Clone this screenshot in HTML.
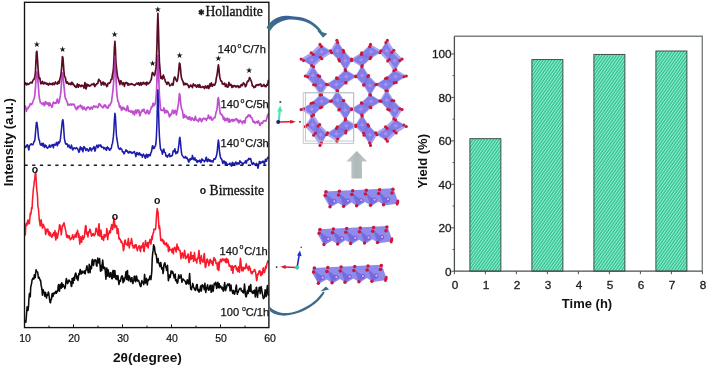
<!DOCTYPE html>
<html><head><meta charset="utf-8"><title>XRD hollandite birnessite</title>
<style>html,body{margin:0;padding:0;background:#fff}body{width:709px;height:369px;overflow:hidden}</style>
</head><body>
<svg width="709" height="369" viewBox="0 0 709 369" style="display:block">
<defs>
<pattern id="hatch" width="2.4" height="2.4" patternUnits="userSpaceOnUse" patternTransform="rotate(-55)">
<rect width="2.4" height="2.4" fill="#2fbd8e"/><rect width="2.4" height="1.1" fill="#93f2d2"/></pattern>
<linearGradient id="garrow" x1="0" x2="1" y1="0" y2="0"><stop offset="0" stop-color="#c3cacb"/><stop offset="0.5" stop-color="#aeb8b9"/><stop offset="1" stop-color="#c3cacb"/></linearGradient>
<linearGradient id="barrow" x1="0" x2="0" y1="0" y2="1"><stop offset="0" stop-color="#3a5f96"/><stop offset="1" stop-color="#3d7f80"/></linearGradient>
<clipPath id="clipL"><rect x="24.4" y="2.3" width="244.8" height="325.3"/></clipPath>
</defs>
<rect width="709" height="369" fill="#fff"/>
<g clip-path="url(#clipL)">
<polyline points="24.9,319.6 25.3,321.0 25.8,322.3 26.2,318.4 26.7,311.8 27.1,306.7 27.6,307.6 28.0,310.5 28.5,307.0 28.9,299.0 29.4,293.6 29.8,296.7 30.3,296.8 30.7,287.3 31.2,285.1 31.6,283.3 32.1,279.8 32.5,279.3 33.0,278.1 33.4,279.1 33.9,279.0 34.3,274.7 34.8,275.4 35.2,277.7 35.7,272.7 36.1,269.7 36.6,271.1 37.0,271.8 37.5,272.0 37.9,273.7 38.4,278.1 38.8,277.5 39.3,277.4 39.7,279.0 40.2,280.5 40.6,280.4 41.1,285.1 41.5,286.9 42.0,290.3 42.4,295.2 42.9,289.6 43.3,289.9 43.8,292.5 44.2,292.9 44.7,296.2 45.1,292.3 45.6,292.7 46.0,296.1 46.5,298.0 46.9,295.6 47.4,294.4 47.8,295.1 48.3,292.0 48.7,292.7 49.2,296.5 49.6,299.7 50.1,302.5 50.5,302.8 51.0,299.5 51.4,299.4 51.9,294.8 52.3,293.4 52.8,296.7 53.2,295.7 53.7,292.9 54.1,292.9 54.6,293.8 55.0,292.9 55.5,291.4 55.9,293.0 56.4,293.2 56.8,291.1 57.3,291.9 57.7,291.3 58.2,286.0 58.6,284.6 59.1,289.2 59.5,291.1 60.0,286.5 60.4,284.2 60.9,287.7 61.3,288.1 61.8,282.8 62.2,286.1 62.7,287.1 63.1,284.4 63.6,286.2 64.0,286.3 64.5,286.3 64.9,288.6 65.4,286.8 65.8,281.8 66.3,278.5 66.7,279.8 67.2,283.0 67.6,283.6 68.1,282.7 68.5,280.6 69.0,280.1 69.4,280.6 69.9,281.5 70.3,282.0 70.8,282.1 71.2,286.3 71.7,286.4 72.1,278.5 72.6,280.1 73.0,283.4 73.5,277.6 73.9,278.9 74.4,280.3 74.8,275.9 75.3,273.9 75.7,273.0 76.2,274.2 76.6,278.7 77.1,278.0 77.5,276.3 78.0,280.4 78.4,276.7 78.9,273.5 79.3,274.6 79.8,271.4 80.2,269.5 80.7,271.7 81.1,274.1 81.6,271.8 82.0,271.0 82.5,273.1 82.9,272.3 83.4,272.0 83.8,272.5 84.3,270.9 84.7,273.5 85.2,273.8 85.6,270.4 86.1,270.1 86.5,267.7 87.0,265.8 87.4,269.6 87.9,270.6 88.3,272.8 88.8,270.6 89.2,264.2 89.7,267.8 90.1,272.8 90.6,266.3 91.0,266.9 91.5,268.6 91.9,261.5 92.4,259.4 92.8,262.1 93.3,265.5 93.7,264.4 94.2,260.1 94.6,260.8 95.1,260.4 95.5,259.8 96.0,261.3 96.4,265.3 96.9,266.2 97.3,261.8 97.8,258.0 98.2,261.2 98.7,262.9 99.1,261.0 99.6,258.6 100.0,264.8 100.5,271.2 100.9,265.5 101.4,265.7 101.8,270.5 102.3,263.4 102.7,260.1 103.2,265.2 103.6,268.2 104.1,268.8 104.5,267.2 105.0,267.7 105.4,273.0 105.9,279.2 106.3,274.7 106.8,268.1 107.2,275.3 107.7,276.1 108.1,269.7 108.6,272.6 109.0,275.3 109.5,277.1 109.9,276.6 110.4,272.6 110.8,272.8 111.3,275.5 111.7,278.5 112.2,278.8 112.6,272.3 113.1,270.4 113.5,276.6 114.0,277.5 114.4,270.6 114.9,270.8 115.3,275.5 115.8,278.9 116.2,276.4 116.7,275.6 117.1,279.7 117.6,277.2 118.0,275.8 118.5,280.5 118.9,284.5 119.4,282.4 119.8,280.6 120.3,281.4 120.7,280.1 121.2,277.5 121.6,276.2 122.1,275.7 122.5,276.8 123.0,282.7 123.4,282.0 123.9,278.3 124.3,281.0 124.8,277.8 125.2,277.5 125.7,273.3 126.1,271.5 126.6,279.5 127.0,274.5 127.5,270.6 127.9,278.6 128.4,280.6 128.8,275.9 129.3,276.0 129.7,277.3 130.2,279.8 130.6,281.7 131.1,280.0 131.5,277.7 132.0,277.8 132.4,282.0 132.9,283.5 133.3,281.7 133.8,280.5 134.2,276.4 134.7,276.1 135.1,279.6 135.6,281.8 136.0,278.9 136.5,276.0 136.9,277.9 137.4,281.0 137.8,280.4 138.3,280.2 138.7,280.5 139.2,282.3 139.6,283.9 140.1,285.2 140.5,286.5 141.0,286.4 141.4,282.7 141.9,280.6 142.3,282.7 142.8,282.4 143.2,282.3 143.7,284.6 144.1,281.3 144.6,274.4 145.0,279.3 145.5,283.1 145.9,281.7 146.4,278.4 146.8,280.5 147.3,285.0 147.7,281.5 148.2,279.6 148.6,280.1 149.1,279.7 149.5,277.8 150.0,276.0 150.4,278.1 150.9,279.6 151.3,276.4 151.8,271.5 152.2,259.2 152.7,253.0 153.1,250.9 153.6,244.7 154.0,246.3 154.5,247.0 154.9,250.7 155.4,254.1 155.8,253.7 156.3,255.2 156.7,258.9 157.2,262.8 157.6,261.8 158.1,258.6 158.5,262.4 159.0,263.8 159.4,264.3 159.9,266.7 160.3,262.7 160.8,262.5 161.2,265.4 161.7,269.1 162.1,267.4 162.6,268.2 163.0,273.5 163.5,270.9 163.9,265.0 164.4,263.6 164.8,262.8 165.3,265.0 165.7,267.2 166.2,266.9 166.6,270.4 167.1,268.5 167.5,265.2 168.0,275.0 168.4,280.8 168.9,277.6 169.3,275.1 169.8,277.5 170.2,277.5 170.7,274.1 171.1,270.9 171.6,271.2 172.0,273.0 172.5,271.5 172.9,272.1 173.4,274.4 173.8,276.1 174.3,278.0 174.7,276.6 175.2,274.0 175.6,280.5 176.1,281.0 176.5,279.8 177.0,282.7 177.4,283.2 177.9,282.0 178.3,277.3 178.8,274.8 179.2,278.3 179.7,276.7 180.1,276.8 180.6,277.7 181.0,274.8 181.5,278.5 181.9,282.2 182.4,280.2 182.8,279.0 183.3,279.2 183.7,280.0 184.2,280.2 184.6,280.7 185.1,281.2 185.5,282.0 186.0,284.0 186.4,284.1 186.9,281.2 187.3,279.7 187.8,282.6 188.2,283.4 188.7,283.9 189.1,279.3 189.6,273.6 190.0,279.4 190.5,286.8 190.9,289.3 191.4,289.8 191.8,287.1 192.3,286.8 192.7,283.4 193.2,285.3 193.6,287.6 194.1,287.9 194.5,289.5 195.0,288.6 195.4,290.5 195.9,288.9 196.3,285.8 196.8,284.5 197.2,284.6 197.7,290.3 198.1,290.9 198.6,289.5 199.0,292.2 199.5,290.9 199.9,290.7 200.4,287.1 200.8,285.9 201.3,291.1 201.7,288.7 202.2,284.8 202.6,285.0 203.1,286.5 203.5,286.1 204.0,288.4 204.4,289.7 204.9,283.3 205.3,287.7 205.8,292.5 206.2,289.5 206.7,288.6 207.1,286.4 207.6,284.8 208.0,288.0 208.5,290.0 208.9,290.2 209.4,289.0 209.8,286.0 210.3,285.2 210.7,288.6 211.2,292.3 211.6,288.9 212.1,285.0 212.5,288.4 213.0,291.4 213.4,289.7 213.9,285.7 214.3,283.4 214.8,284.6 215.2,284.6 215.7,282.2 216.1,284.1 216.6,288.5 217.0,286.3 217.5,283.2 217.9,282.3 218.4,287.6 218.8,285.0 219.3,283.7 219.7,287.9 220.2,285.9 220.6,285.9 221.1,286.9 221.5,287.4 222.0,289.0 222.4,287.2 222.9,289.8 223.3,291.1 223.8,290.1 224.2,285.8 224.7,282.5 225.1,286.7 225.6,290.6 226.0,288.9 226.5,287.8 226.9,285.5 227.4,284.6 227.8,284.1 228.3,284.9 228.7,285.8 229.2,283.8 229.6,285.5 230.1,290.9 230.5,289.9 231.0,285.0 231.4,289.5 231.9,290.3 232.3,291.6 232.8,293.4 233.2,290.4 233.7,290.4 234.1,293.7 234.6,294.2 235.0,292.1 235.5,291.5 235.9,287.4 236.4,285.0 236.8,290.9 237.3,294.2 237.7,292.5 238.2,292.3 238.6,290.3 239.1,289.8 239.5,288.8 240.0,288.4 240.4,288.8 240.9,288.3 241.3,290.9 241.8,290.4 242.2,290.7 242.7,292.3 243.1,291.3 243.6,293.0 244.0,289.7 244.5,284.1 244.9,288.2 245.4,294.1 245.8,296.6 246.3,296.9 246.7,294.3 247.2,291.0 247.6,290.6 248.1,293.5 248.5,289.3 249.0,286.2 249.4,288.0 249.9,291.5 250.3,285.6 250.8,284.6 251.2,291.7 251.7,291.6 252.1,292.3 252.6,293.4 253.0,291.0 253.5,291.0 253.9,293.2 254.4,290.1 254.8,291.6 255.3,296.9 255.7,293.7 256.2,287.5 256.6,287.2 257.1,294.3 257.5,297.3 258.0,292.4 258.4,291.1 258.9,289.5 259.3,287.2 259.8,289.6 260.2,293.6 260.7,289.0 261.1,286.5 261.6,289.0 262.0,291.4 262.5,294.4 262.9,296.5 263.4,298.6 263.8,297.9 264.3,297.8 264.7,293.5 265.2,289.7 265.6,294.9 266.1,296.6 266.5,293.7 267.0,288.9 267.4,285.5 267.9,291.3 268.3,295.8" fill="none" stroke="#0a0a0a" stroke-width="1.55" stroke-linejoin="round" />
<polyline points="24.9,235.4 25.3,234.8 25.8,225.5 26.2,223.4 26.7,225.4 27.1,224.6 27.6,220.6 28.0,220.0 28.5,222.4 28.9,223.9 29.4,223.1 29.8,218.9 30.3,213.1 30.7,214.7 31.2,211.8 31.6,207.6 32.1,208.5 32.5,199.9 33.0,194.3 33.4,188.6 33.9,185.4 34.3,180.9 34.8,179.3 35.2,173.6 35.7,172.3 36.1,178.9 36.6,187.7 37.0,191.8 37.5,196.3 37.9,206.4 38.4,208.4 38.8,213.2 39.3,220.2 39.7,222.4 40.2,225.9 40.6,222.3 41.1,219.7 41.5,221.8 42.0,225.8 42.4,228.1 42.9,226.8 43.3,224.3 43.8,225.8 44.2,226.8 44.7,227.8 45.1,229.0 45.6,234.5 46.0,233.3 46.5,229.4 46.9,231.6 47.4,231.4 47.8,229.1 48.3,231.2 48.7,234.7 49.2,231.8 49.6,233.1 50.1,236.0 50.5,232.9 51.0,235.8 51.4,235.9 51.9,237.3 52.3,236.4 52.8,234.1 53.2,234.8 53.7,232.5 54.1,235.4 54.6,235.8 55.0,230.5 55.5,237.7 55.9,240.0 56.4,233.0 56.8,236.5 57.3,238.1 57.7,235.8 58.2,233.7 58.6,230.9 59.1,229.1 59.5,224.8 60.0,225.2 60.4,228.1 60.9,231.0 61.3,234.8 61.8,230.4 62.2,225.9 62.7,226.9 63.1,224.3 63.6,223.9 64.0,222.7 64.5,225.2 64.9,226.8 65.4,229.4 65.8,231.0 66.3,234.9 66.7,237.1 67.2,235.1 67.6,236.9 68.1,238.0 68.5,236.5 69.0,235.6 69.4,236.1 69.9,238.2 70.3,239.8 70.8,238.9 71.2,238.9 71.7,237.8 72.1,237.0 72.6,234.7 73.0,237.0 73.5,239.4 73.9,236.9 74.4,237.4 74.8,236.0 75.3,234.3 75.7,236.6 76.2,237.1 76.6,232.6 77.1,232.4 77.5,230.3 78.0,233.1 78.4,237.3 78.9,233.7 79.3,238.9 79.8,244.1 80.2,239.9 80.7,236.8 81.1,239.3 81.6,242.3 82.0,239.3 82.5,235.8 82.9,238.9 83.4,239.1 83.8,237.2 84.3,237.3 84.7,232.7 85.2,228.5 85.6,225.6 86.1,226.3 86.5,234.1 87.0,232.6 87.4,232.3 87.9,237.0 88.3,234.6 88.8,231.5 89.2,232.3 89.7,229.5 90.1,229.3 90.6,231.5 91.0,233.5 91.5,236.2 91.9,234.0 92.4,234.3 92.8,235.2 93.3,233.5 93.7,235.7 94.2,235.7 94.6,234.5 95.1,234.6 95.5,231.9 96.0,228.3 96.4,228.2 96.9,231.5 97.3,231.9 97.8,234.3 98.2,235.4 98.7,225.1 99.1,223.7 99.6,234.8 100.0,236.4 100.5,232.0 100.9,230.1 101.4,233.9 101.8,239.1 102.3,238.3 102.7,236.8 103.2,239.4 103.6,240.4 104.1,234.8 104.5,234.6 105.0,237.1 105.4,235.2 105.9,235.9 106.3,235.7 106.8,228.5 107.2,231.1 107.7,239.6 108.1,235.9 108.6,233.2 109.0,233.6 109.5,230.7 109.9,230.9 110.4,232.8 110.8,228.9 111.3,226.6 111.7,224.6 112.2,227.4 112.6,229.5 113.1,226.8 113.5,222.3 114.0,217.9 114.4,219.7 114.9,227.6 115.3,224.8 115.8,225.8 116.2,227.0 116.7,226.0 117.1,233.6 117.6,231.7 118.0,228.7 118.5,233.2 118.9,238.7 119.4,238.0 119.8,239.5 120.3,239.4 120.7,240.6 121.2,242.6 121.6,241.2 122.1,242.8 122.5,243.5 123.0,246.4 123.4,250.8 123.9,249.3 124.3,244.5 124.8,240.4 125.2,240.0 125.7,242.8 126.1,244.5 126.6,244.3 127.0,244.6 127.5,245.4 127.9,241.8 128.4,238.4 128.8,244.5 129.3,247.9 129.7,243.3 130.2,243.9 130.6,243.4 131.1,241.1 131.5,238.6 132.0,241.5 132.4,245.7 132.9,245.7 133.3,248.0 133.8,246.5 134.2,245.3 134.7,247.9 135.1,246.8 135.6,244.8 136.0,244.6 136.5,246.6 136.9,248.9 137.4,250.7 137.8,248.6 138.3,247.6 138.7,246.7 139.2,245.6 139.6,246.6 140.1,250.5 140.5,251.6 141.0,246.6 141.4,246.0 141.9,247.7 142.3,245.5 142.8,244.3 143.2,242.7 143.7,250.2 144.1,251.6 144.6,247.6 145.0,244.6 145.5,240.5 145.9,243.1 146.4,244.9 146.8,246.4 147.3,243.9 147.7,242.6 148.2,248.0 148.6,244.2 149.1,242.3 149.5,242.1 150.0,239.5 150.4,241.8 150.9,244.2 151.3,241.4 151.8,236.2 152.2,239.4 152.7,235.6 153.1,233.0 153.6,232.7 154.0,229.0 154.5,229.6 154.9,229.3 155.4,229.6 155.8,227.1 156.3,219.2 156.7,213.0 157.2,208.5 157.6,211.2 158.1,212.2 158.5,220.4 159.0,228.4 159.4,225.7 159.9,228.8 160.3,235.3 160.8,240.5 161.2,239.7 161.7,239.3 162.1,241.0 162.6,239.2 163.0,240.4 163.5,243.4 163.9,241.0 164.4,244.0 164.8,244.5 165.3,243.7 165.7,244.7 166.2,242.8 166.6,243.2 167.1,246.6 167.5,246.2 168.0,244.5 168.4,251.5 168.9,250.6 169.3,246.8 169.8,250.4 170.2,249.4 170.7,249.6 171.1,249.7 171.6,250.1 172.0,252.3 172.5,248.4 172.9,251.8 173.4,253.7 173.8,250.1 174.3,247.8 174.7,247.2 175.2,249.1 175.6,249.6 176.1,251.9 176.5,248.1 177.0,244.1 177.4,248.7 177.9,249.3 178.3,247.0 178.8,249.7 179.2,250.3 179.7,250.6 180.1,250.6 180.6,255.3 181.0,258.8 181.5,253.9 181.9,253.1 182.4,252.9 182.8,254.4 183.3,257.9 183.7,255.3 184.2,254.0 184.6,250.4 185.1,254.2 185.5,258.8 186.0,256.7 186.4,258.0 186.9,257.5 187.3,255.2 187.8,255.2 188.2,253.9 188.7,261.0 189.1,262.6 189.6,257.1 190.0,259.9 190.5,254.1 190.9,252.0 191.4,259.1 191.8,257.1 192.3,258.2 192.7,255.6 193.2,256.0 193.6,261.4 194.1,256.7 194.5,252.5 195.0,257.8 195.4,260.4 195.9,259.5 196.3,260.4 196.8,263.0 197.2,258.3 197.7,258.8 198.1,258.4 198.6,253.6 199.0,250.4 199.5,257.3 199.9,261.9 200.4,263.7 200.8,260.1 201.3,255.5 201.7,259.3 202.2,260.4 202.6,261.0 203.1,262.2 203.5,259.7 204.0,254.4 204.4,253.5 204.9,263.0 205.3,267.4 205.8,266.8 206.2,263.8 206.7,260.1 207.1,259.0 207.6,259.7 208.0,262.4 208.5,262.8 208.9,265.6 209.4,262.1 209.8,260.2 210.3,259.4 210.7,260.6 211.2,263.1 211.6,261.2 212.1,261.6 212.5,264.9 213.0,265.3 213.4,260.6 213.9,257.5 214.3,259.7 214.8,260.5 215.2,259.1 215.7,261.1 216.1,263.6 216.6,263.3 217.0,263.5 217.5,269.5 217.9,264.4 218.4,262.3 218.8,270.5 219.3,265.3 219.7,262.0 220.2,260.6 220.6,259.4 221.1,261.8 221.5,261.7 222.0,260.0 222.4,258.7 222.9,258.7 223.3,260.1 223.8,259.8 224.2,260.8 224.7,259.6 225.1,259.1 225.6,262.4 226.0,259.0 226.5,258.4 226.9,262.7 227.4,260.1 227.8,259.3 228.3,261.3 228.7,263.1 229.2,266.1 229.6,265.0 230.1,266.1 230.5,266.8 231.0,266.1 231.4,270.3 231.9,266.4 232.3,265.8 232.8,273.3 233.2,270.2 233.7,266.9 234.1,267.2 234.6,266.1 235.0,266.0 235.5,265.5 235.9,266.7 236.4,269.8 236.8,267.9 237.3,269.0 237.7,271.7 238.2,270.9 238.6,266.7 239.1,268.7 239.5,272.2 240.0,263.4 240.4,258.3 240.9,262.0 241.3,267.2 241.8,270.7 242.2,268.7 242.7,267.3 243.1,270.9 243.6,267.6 244.0,267.6 244.5,268.9 244.9,268.0 245.4,268.5 245.8,265.4 246.3,263.7 246.7,266.1 247.2,268.1 247.6,267.5 248.1,269.4 248.5,270.3 249.0,266.0 249.4,266.4 249.9,268.7 250.3,268.4 250.8,271.5 251.2,273.3 251.7,272.7 252.1,273.8 252.6,271.5 253.0,272.1 253.5,271.5 253.9,270.8 254.4,269.4 254.8,269.7 255.3,271.2 255.7,272.8 256.2,277.3 256.6,280.6 257.1,279.4 257.5,274.4 258.0,273.9 258.4,274.4 258.9,271.6 259.3,270.8 259.8,271.6 260.2,271.1 260.7,275.5 261.1,275.7 261.6,272.1 262.0,274.3 262.5,274.3 262.9,269.0 263.4,267.9 263.8,270.6 264.3,272.5 264.7,271.8 265.2,269.4 265.6,266.3 266.1,268.3 266.5,265.8 267.0,263.3 267.4,262.8 267.9,260.9 268.3,262.6" fill="none" stroke="#fb1a2c" stroke-width="1.55" stroke-linejoin="round" />
<polyline points="24.9,108.3 25.4,106.2 25.9,108.4 26.4,111.4 26.9,109.1 27.4,108.4 27.9,108.6 28.4,106.8 28.9,106.9 29.4,106.6 29.9,104.7 30.4,103.6 30.9,104.3 31.4,104.6 31.9,104.2 32.4,103.1 32.9,101.8 33.4,100.2 33.9,99.3 34.4,97.8 34.9,94.1 35.4,88.7 35.9,79.7 36.4,72.0 36.9,72.3 37.4,75.7 37.9,80.3 38.4,86.6 38.9,93.9 39.4,98.2 39.9,100.4 40.4,102.7 40.9,102.8 41.4,103.2 41.9,103.4 42.4,104.4 42.9,104.1 43.4,102.7 43.9,104.0 44.4,105.7 44.9,104.6 45.4,101.7 45.9,101.9 46.4,103.6 46.9,103.7 47.4,104.1 47.9,102.8 48.4,103.0 48.9,105.9 49.4,103.4 49.9,103.0 50.4,105.3 50.9,105.5 51.4,105.3 51.9,107.2 52.4,106.4 52.9,103.5 53.4,102.1 53.9,103.0 54.4,103.4 54.9,102.9 55.4,102.7 55.9,103.3 56.4,102.4 56.9,100.3 57.4,99.1 57.9,101.5 58.4,103.2 58.9,102.8 59.4,101.5 59.9,97.6 60.4,95.4 60.9,91.5 61.4,84.0 61.9,75.7 62.4,72.9 62.9,74.7 63.4,79.5 63.9,85.7 64.4,90.4 64.9,95.3 65.4,98.7 65.9,98.8 66.4,100.4 66.9,101.5 67.4,102.6 67.9,105.1 68.4,104.4 68.9,104.6 69.4,105.0 69.9,104.4 70.4,104.5 70.9,104.0 71.4,105.0 71.9,104.7 72.4,104.2 72.9,104.4 73.4,104.7 73.9,104.1 74.4,104.9 74.9,106.7 75.4,108.0 75.9,108.0 76.4,109.7 76.9,109.1 77.4,106.7 77.9,108.3 78.4,107.5 78.9,106.2 79.4,106.6 79.9,106.2 80.4,105.2 80.9,105.8 81.4,107.8 81.9,106.0 82.4,107.8 82.9,109.4 83.4,108.4 83.9,107.1 84.4,107.3 84.9,108.7 85.4,109.4 85.9,110.1 86.4,109.0 86.9,107.7 87.4,108.1 87.9,106.9 88.4,107.1 88.9,107.8 89.4,108.2 89.9,109.4 90.4,107.9 90.9,107.1 91.4,107.3 91.9,108.5 92.4,109.1 92.9,107.2 93.4,106.5 93.9,105.8 94.4,106.7 94.9,107.1 95.4,107.2 95.9,106.2 96.4,106.5 96.9,106.8 97.4,107.6 97.9,107.5 98.4,105.9 98.9,104.0 99.4,103.7 99.9,105.0 100.4,104.5 100.9,105.8 101.4,106.3 101.9,106.6 102.4,107.5 102.9,107.7 103.4,107.4 103.9,105.8 104.4,105.0 104.9,106.0 105.4,105.1 105.9,106.1 106.4,107.7 106.9,107.0 107.4,107.9 107.9,108.2 108.4,107.3 108.9,105.3 109.4,105.0 109.9,105.5 110.4,103.6 110.9,103.0 111.4,102.7 111.9,98.5 112.4,95.0 112.9,90.6 113.4,84.8 113.9,76.6 114.4,63.1 114.9,55.5 115.4,62.5 115.9,75.3 116.4,86.5 116.9,94.7 117.4,98.1 117.9,101.3 118.4,102.0 118.9,103.2 119.4,107.0 119.9,107.3 120.4,106.0 120.9,107.3 121.4,110.1 121.9,110.0 122.4,107.3 122.9,108.9 123.4,108.6 123.9,107.5 124.4,109.2 124.9,109.6 125.4,109.1 125.9,109.7 126.4,110.8 126.9,108.1 127.4,105.8 127.9,107.1 128.4,110.8 128.9,111.4 129.4,110.6 129.9,110.9 130.4,111.5 130.9,112.2 131.4,111.9 131.9,110.8 132.4,111.6 132.9,113.7 133.4,111.5 133.9,112.6 134.4,115.0 134.9,112.2 135.4,110.0 135.9,111.0 136.4,113.4 136.9,112.0 137.4,109.8 137.9,111.3 138.4,112.2 138.9,110.2 139.4,113.7 139.9,115.8 140.4,114.4 140.9,112.1 141.4,112.0 141.9,110.4 142.4,109.9 142.9,111.0 143.4,110.0 143.9,109.1 144.4,111.2 144.9,112.6 145.4,112.5 145.9,113.6 146.4,112.7 146.9,110.7 147.4,110.1 147.9,110.9 148.4,113.7 148.9,113.8 149.4,113.3 149.9,111.9 150.4,109.9 150.9,109.1 151.4,106.9 151.9,107.2 152.4,106.7 152.9,103.5 153.4,103.4 153.9,105.7 154.4,104.9 154.9,104.6 155.4,103.0 155.9,98.8 156.4,93.1 156.9,82.1 157.4,66.0 157.9,55.5 158.4,65.6 158.9,82.6 159.4,94.7 159.9,101.8 160.4,107.2 160.9,110.1 161.4,109.6 161.9,110.5 162.4,110.3 162.9,110.5 163.4,110.7 163.9,107.9 164.4,109.5 164.9,113.1 165.4,110.7 165.9,110.3 166.4,112.4 166.9,111.4 167.4,110.8 167.9,111.9 168.4,113.1 168.9,114.5 169.4,116.8 169.9,115.9 170.4,114.5 170.9,115.0 171.4,114.0 171.9,112.8 172.4,110.2 172.9,110.4 173.4,112.5 173.9,113.5 174.4,112.1 174.9,110.6 175.4,110.4 175.9,112.5 176.4,114.9 176.9,112.2 177.4,109.7 177.9,106.7 178.4,103.9 178.9,99.7 179.4,93.7 179.9,94.7 180.4,100.6 180.9,105.2 181.4,107.9 181.9,109.5 182.4,110.8 182.9,113.6 183.4,118.0 183.9,116.5 184.4,114.8 184.9,117.1 185.4,116.0 185.9,116.2 186.4,116.2 186.9,117.5 187.4,118.5 187.9,117.5 188.4,119.1 188.9,119.0 189.4,116.8 189.9,117.0 190.4,119.4 190.9,120.2 191.4,119.6 191.9,117.9 192.4,117.8 192.9,119.2 193.4,119.3 193.9,120.5 194.4,120.5 194.9,118.0 195.4,116.4 195.9,118.4 196.4,120.1 196.9,119.8 197.4,120.4 197.9,120.8 198.4,121.7 198.9,119.6 199.4,118.4 199.9,119.9 200.4,118.6 200.9,119.2 201.4,121.7 201.9,121.2 202.4,119.7 202.9,119.0 203.4,118.3 203.9,118.3 204.4,118.8 204.9,118.9 205.4,118.4 205.9,118.9 206.4,120.4 206.9,118.9 207.4,118.4 207.9,117.9 208.4,115.0 208.9,116.4 209.4,118.0 209.9,118.8 210.4,117.1 210.9,116.9 211.4,118.4 211.9,120.1 212.4,120.0 212.9,119.1 213.4,118.4 213.9,117.6 214.4,117.7 214.9,117.7 215.4,115.7 215.9,112.8 216.4,111.3 216.9,110.0 217.4,105.3 217.9,99.4 218.4,97.6 218.9,101.1 219.4,106.7 219.9,111.4 220.4,114.0 220.9,113.8 221.4,114.4 221.9,115.4 222.4,115.1 222.9,117.1 223.4,119.4 223.9,117.4 224.4,118.8 224.9,120.8 225.4,118.7 225.9,119.0 226.4,120.2 226.9,119.4 227.4,118.2 227.9,119.3 228.4,121.8 228.9,119.3 229.4,119.2 229.9,122.1 230.4,121.1 230.9,120.4 231.4,120.7 231.9,119.6 232.4,119.7 232.9,121.3 233.4,120.2 233.9,119.5 234.4,120.8 234.9,120.2 235.4,119.6 235.9,118.9 236.4,118.7 236.9,119.7 237.4,120.8 237.9,119.9 238.4,122.4 238.9,122.9 239.4,120.6 239.9,121.1 240.4,120.3 240.9,121.7 241.4,121.7 241.9,121.7 242.4,123.6 242.9,121.6 243.4,121.0 243.9,120.9 244.4,122.3 244.9,123.0 245.4,119.8 245.9,118.0 246.4,117.4 246.9,117.5 247.4,116.9 247.9,115.7 248.4,115.1 248.9,114.9 249.4,116.5 249.9,115.9 250.4,115.4 250.9,117.4 251.4,117.6 251.9,117.9 252.4,119.1 252.9,120.9 253.4,122.1 253.9,121.2 254.4,122.3 254.9,123.2 255.4,122.4 255.9,122.4 256.4,121.8 256.9,121.7 257.4,122.9 257.9,122.0 258.4,120.8 258.9,122.3 259.4,123.7 259.9,125.4 260.4,124.7 260.9,123.1 261.4,123.3 261.9,122.6 262.4,123.3 262.9,122.3 263.4,121.0 263.9,121.3 264.4,120.7 264.9,120.8 265.4,121.2 265.9,121.2 266.4,119.8 266.9,118.3 267.4,115.8 267.9,114.5 268.4,113.6" fill="none" stroke="#c04fd0" stroke-width="1.7" stroke-linejoin="round" />
<polyline points="24.9,84.7 25.4,82.9 25.9,83.4 26.4,85.0 26.9,83.9 27.4,83.5 27.9,84.4 28.4,84.4 28.9,84.0 29.4,83.9 29.9,83.1 30.4,82.4 30.9,82.4 31.4,82.8 31.9,83.0 32.4,82.0 32.9,80.5 33.4,79.7 33.9,79.5 34.4,78.0 34.9,76.2 35.4,72.8 35.9,62.5 36.4,52.1 36.9,51.3 37.4,58.0 37.9,66.4 38.4,72.5 38.9,77.7 39.4,78.9 39.9,78.0 40.4,81.8 40.9,83.8 41.4,83.5 41.9,83.1 42.4,81.4 42.9,82.4 43.4,83.9 43.9,82.9 44.4,82.4 44.9,83.6 45.4,83.3 45.9,83.0 46.4,83.9 46.9,84.2 47.4,83.5 47.9,84.0 48.4,85.1 48.9,84.7 49.4,83.2 49.9,83.6 50.4,84.2 50.9,84.3 51.4,83.7 51.9,83.9 52.4,84.8 52.9,83.0 53.4,83.1 53.9,84.2 54.4,84.5 54.9,83.4 55.4,82.0 55.9,83.2 56.4,83.6 56.9,83.3 57.4,84.1 57.9,82.2 58.4,81.3 58.9,83.4 59.4,82.0 59.9,78.7 60.4,77.3 60.9,75.0 61.4,70.7 61.9,64.0 62.4,56.6 62.9,57.4 63.4,64.1 63.9,70.9 64.4,75.9 64.9,76.9 65.4,77.6 65.9,80.8 66.4,83.2 66.9,82.4 67.4,81.9 67.9,83.1 68.4,83.8 68.9,84.3 69.4,84.0 69.9,83.3 70.4,83.3 70.9,84.7 71.4,83.0 71.9,82.2 72.4,84.3 72.9,83.3 73.4,84.1 73.9,85.1 74.4,85.7 74.9,86.5 75.4,86.2 75.9,87.4 76.4,87.2 76.9,85.4 77.4,83.9 77.9,85.9 78.4,87.2 78.9,84.8 79.4,84.9 79.9,85.4 80.4,86.1 80.9,86.6 81.4,85.9 81.9,85.1 82.4,85.8 82.9,85.6 83.4,86.0 83.9,88.1 84.4,86.0 84.9,82.5 85.4,84.2 85.9,89.0 86.4,87.7 86.9,84.0 87.4,85.3 87.9,85.9 88.4,84.8 88.9,85.2 89.4,86.2 89.9,86.1 90.4,85.4 90.9,85.4 91.4,84.4 91.9,84.3 92.4,84.1 92.9,84.6 93.4,84.5 93.9,83.5 94.4,85.8 94.9,86.5 95.4,84.9 95.9,85.0 96.4,84.4 96.9,83.5 97.4,83.7 97.9,83.2 98.4,80.1 98.9,79.3 99.4,80.6 99.9,80.5 100.4,81.3 100.9,82.5 101.4,85.1 101.9,84.3 102.4,83.1 102.9,82.1 103.4,82.1 103.9,84.8 104.4,84.4 104.9,83.1 105.4,83.8 105.9,84.8 106.4,85.5 106.9,86.5 107.4,86.0 107.9,83.5 108.4,83.1 108.9,83.3 109.4,83.3 109.9,82.7 110.4,82.1 110.9,79.9 111.4,79.3 111.9,79.1 112.4,74.9 112.9,72.6 113.4,69.2 113.9,60.5 114.4,48.4 114.9,41.4 115.4,49.6 115.9,62.3 116.4,67.4 116.9,71.3 117.4,75.7 117.9,77.5 118.4,78.9 118.9,81.1 119.4,82.5 119.9,84.5 120.4,81.4 120.9,80.6 121.4,82.0 121.9,83.2 122.4,84.7 122.9,84.2 123.4,82.7 123.9,83.7 124.4,86.4 124.9,84.0 125.4,82.7 125.9,83.2 126.4,82.6 126.9,82.5 127.4,84.1 127.9,85.0 128.4,83.5 128.9,85.0 129.4,84.6 129.9,84.0 130.4,84.0 130.9,84.5 131.4,83.7 131.9,83.6 132.4,84.4 132.9,84.5 133.4,84.6 133.9,84.9 134.4,85.4 134.9,85.4 135.4,84.4 135.9,84.0 136.4,83.7 136.9,83.1 137.4,84.0 137.9,84.1 138.4,82.9 138.9,84.3 139.4,85.2 139.9,84.7 140.4,82.6 140.9,83.1 141.4,85.1 141.9,83.1 142.4,83.5 142.9,84.0 143.4,82.3 143.9,83.0 144.4,83.9 144.9,83.9 145.4,82.9 145.9,84.2 146.4,85.1 146.9,82.0 147.4,82.9 147.9,83.9 148.4,83.7 148.9,83.4 149.4,82.5 149.9,82.4 150.4,81.0 150.9,80.3 151.4,78.9 151.9,75.0 152.4,72.6 152.9,72.8 153.4,74.1 153.9,74.6 154.4,75.7 154.9,74.3 155.4,70.9 155.9,68.7 156.4,60.7 156.9,46.9 157.4,26.8 157.9,13.3 158.4,27.0 158.9,47.2 159.4,62.1 159.9,67.9 160.4,74.5 160.9,78.5 161.4,76.8 161.9,78.5 162.4,79.0 162.9,76.1 163.4,75.1 163.9,77.1 164.4,78.3 164.9,79.4 165.4,81.7 165.9,82.1 166.4,82.9 166.9,84.4 167.4,83.3 167.9,82.1 168.4,82.5 168.9,83.3 169.4,84.8 169.9,85.8 170.4,85.3 170.9,85.1 171.4,84.4 171.9,83.6 172.4,83.6 172.9,85.3 173.4,83.1 173.9,79.0 174.4,77.3 174.9,77.1 175.4,78.3 175.9,79.7 176.4,80.4 176.9,81.4 177.4,80.3 177.9,77.4 178.4,74.5 178.9,68.1 179.4,63.1 179.9,63.6 180.4,67.6 180.9,73.4 181.4,77.4 181.9,78.9 182.4,80.4 182.9,81.3 183.4,83.1 183.9,84.9 184.4,83.6 184.9,83.2 185.4,83.6 185.9,84.6 186.4,84.2 186.9,83.7 187.4,84.5 187.9,84.9 188.4,86.0 188.9,87.6 189.4,86.9 189.9,86.2 190.4,85.0 190.9,85.0 191.4,86.2 191.9,86.1 192.4,87.6 192.9,85.2 193.4,83.9 193.9,85.0 194.4,85.6 194.9,85.6 195.4,84.9 195.9,86.1 196.4,87.1 196.9,86.9 197.4,85.4 197.9,85.0 198.4,86.5 198.9,87.1 199.4,84.6 199.9,85.3 200.4,87.3 200.9,87.5 201.4,87.3 201.9,87.2 202.4,86.9 202.9,86.6 203.4,86.9 203.9,87.1 204.4,88.5 204.9,87.2 205.4,86.0 205.9,86.7 206.4,87.8 206.9,88.1 207.4,86.1 207.9,85.7 208.4,87.3 208.9,88.5 209.4,86.2 209.9,83.9 210.4,86.4 210.9,85.4 211.4,82.9 211.9,84.5 212.4,86.3 212.9,85.1 213.4,84.5 213.9,84.8 214.4,85.2 214.9,84.6 215.4,83.4 215.9,81.2 216.4,77.7 216.9,75.6 217.4,72.3 217.9,68.0 218.4,64.8 218.9,68.1 219.4,74.5 219.9,77.7 220.4,79.5 220.9,81.0 221.4,80.8 221.9,81.8 222.4,84.0 222.9,83.6 223.4,84.4 223.9,84.0 224.4,83.1 224.9,83.9 225.4,86.5 225.9,85.3 226.4,84.2 226.9,86.8 227.4,86.5 227.9,87.1 228.4,85.7 228.9,82.4 229.4,84.2 229.9,85.3 230.4,84.3 230.9,84.4 231.4,85.4 231.9,87.5 232.4,85.7 232.9,85.8 233.4,86.8 233.9,85.7 234.4,85.5 234.9,85.8 235.4,86.3 235.9,87.1 236.4,86.1 236.9,86.6 237.4,86.4 237.9,85.6 238.4,86.6 238.9,87.6 239.4,86.4 239.9,86.5 240.4,86.9 240.9,85.1 241.4,84.5 241.9,85.0 242.4,85.6 242.9,84.1 243.4,82.8 243.9,83.3 244.4,83.8 244.9,85.1 245.4,86.7 245.9,86.1 246.4,85.0 246.9,82.9 247.4,81.3 247.9,81.1 248.4,81.4 248.9,80.0 249.4,77.7 249.9,78.0 250.4,79.3 250.9,80.2 251.4,81.5 251.9,83.6 252.4,86.0 252.9,86.1 253.4,86.1 253.9,87.7 254.4,86.8 254.9,86.6 255.4,87.0 255.9,85.3 256.4,84.8 256.9,85.3 257.4,84.8 257.9,84.6 258.4,84.9 258.9,85.3 259.4,84.6 259.9,84.3 260.4,83.9 260.9,84.2 261.4,86.4 261.9,86.2 262.4,85.7 262.9,86.0 263.4,85.3 263.9,84.4 264.4,85.3 264.9,86.3 265.4,85.9 265.9,86.7 266.4,85.9 266.9,84.4 267.4,85.2 267.9,83.2 268.4,79.9" fill="none" stroke="#5a0c26" stroke-width="1.7" stroke-linejoin="round" />
<polyline points="24.9,145.8 25.4,147.4 25.9,146.6 26.4,146.8 26.9,145.1 27.4,144.7 27.9,145.6 28.4,148.7 28.9,149.9 29.4,145.9 29.9,145.2 30.4,144.7 30.9,143.9 31.4,143.8 31.9,144.8 32.4,144.6 32.9,144.6 33.4,143.5 33.9,141.6 34.4,141.5 34.9,139.6 35.4,133.9 35.9,127.8 36.4,122.5 36.9,122.4 37.4,126.0 37.9,130.4 38.4,136.6 38.9,139.5 39.4,140.3 39.9,142.9 40.4,144.7 40.9,144.9 41.4,145.3 41.9,143.2 42.4,143.9 42.9,146.0 43.4,143.4 43.9,145.0 44.4,147.4 44.9,146.9 45.4,145.0 45.9,145.5 46.4,146.4 46.9,147.8 47.4,148.3 47.9,147.4 48.4,147.4 48.9,146.8 49.4,145.0 49.9,145.8 50.4,147.3 50.9,146.8 51.4,145.2 51.9,145.7 52.4,144.5 52.9,145.1 53.4,147.8 53.9,144.8 54.4,144.1 54.9,144.8 55.4,145.1 55.9,144.0 56.4,142.4 56.9,144.3 57.4,145.8 57.9,143.2 58.4,141.7 58.9,143.5 59.4,142.1 59.9,141.8 60.4,138.9 60.9,134.4 61.4,130.2 61.9,124.9 62.4,120.7 62.9,119.6 63.4,123.3 63.9,131.6 64.4,138.7 64.9,141.0 65.4,143.3 65.9,144.2 66.4,143.6 66.9,143.8 67.4,144.3 67.9,146.9 68.4,146.6 68.9,145.0 69.4,146.6 69.9,147.5 70.4,148.3 70.9,147.3 71.4,145.1 71.9,146.7 72.4,149.4 72.9,149.9 73.4,148.8 73.9,147.7 74.4,148.1 74.9,148.1 75.4,148.8 75.9,148.4 76.4,147.6 76.9,148.1 77.4,148.7 77.9,149.3 78.4,151.0 78.9,152.3 79.4,151.8 79.9,148.3 80.4,146.7 80.9,148.5 81.4,149.7 81.9,147.9 82.4,148.4 82.9,151.8 83.4,149.3 83.9,146.6 84.4,147.2 84.9,147.9 85.4,148.9 85.9,150.5 86.4,150.0 86.9,148.8 87.4,149.0 87.9,150.0 88.4,151.2 88.9,150.6 89.4,149.3 89.9,147.8 90.4,148.0 90.9,149.6 91.4,150.9 91.9,149.5 92.4,148.3 92.9,148.8 93.4,148.4 93.9,146.6 94.4,147.9 94.9,151.1 95.4,150.1 95.9,147.3 96.4,146.2 96.9,145.1 97.4,146.1 97.9,147.8 98.4,146.4 98.9,144.9 99.4,145.3 99.9,146.0 100.4,145.1 100.9,145.0 101.4,147.2 101.9,147.5 102.4,147.1 102.9,147.2 103.4,147.3 103.9,148.9 104.4,148.6 104.9,147.6 105.4,148.6 105.9,149.5 106.4,150.3 106.9,147.5 107.4,146.9 107.9,148.4 108.4,147.8 108.9,149.2 109.4,150.1 109.9,150.3 110.4,148.8 110.9,148.9 111.4,147.8 111.9,144.6 112.4,143.9 112.9,140.3 113.4,136.4 113.9,129.8 114.4,119.5 114.9,113.3 115.4,115.9 115.9,125.8 116.4,134.8 116.9,139.0 117.4,141.9 117.9,145.0 118.4,147.8 118.9,148.6 119.4,148.7 119.9,149.5 120.4,148.1 120.9,148.5 121.4,149.0 121.9,149.6 122.4,151.8 122.9,151.9 123.4,151.8 123.9,153.8 124.4,153.4 124.9,151.9 125.4,151.5 125.9,149.8 126.4,151.3 126.9,151.1 127.4,150.9 127.9,152.6 128.4,153.0 128.9,153.0 129.4,151.4 129.9,152.3 130.4,152.1 130.9,151.7 131.4,152.9 131.9,153.3 132.4,153.2 132.9,152.4 133.4,152.8 133.9,151.7 134.4,151.6 134.9,153.1 135.4,154.3 135.9,156.6 136.4,153.6 136.9,152.5 137.4,154.5 137.9,153.2 138.4,154.2 138.9,155.0 139.4,152.9 139.9,153.3 140.4,154.6 140.9,155.3 141.4,154.6 141.9,155.1 142.4,157.2 142.9,155.6 143.4,154.0 143.9,155.3 144.4,155.4 144.9,157.3 145.4,158.3 145.9,155.3 146.4,154.3 146.9,154.7 147.4,157.4 147.9,157.1 148.4,154.6 148.9,155.1 149.4,154.6 149.9,155.9 150.4,155.0 150.9,152.6 151.4,152.0 151.9,149.5 152.4,145.8 152.9,145.9 153.4,148.5 153.9,148.5 154.4,148.0 154.9,146.4 155.4,146.0 155.9,143.7 156.4,136.9 156.9,124.3 157.4,104.4 157.9,89.9 158.4,103.5 158.9,124.1 159.4,136.0 159.9,142.9 160.4,148.3 160.9,150.1 161.4,150.3 161.9,151.8 162.4,154.2 162.9,152.6 163.4,149.4 163.9,149.1 164.4,152.1 164.9,152.4 165.4,152.6 165.9,156.1 166.4,155.3 166.9,155.8 167.4,157.2 167.9,155.5 168.4,155.6 168.9,154.6 169.4,153.7 169.9,156.8 170.4,156.0 170.9,155.9 171.4,156.2 171.9,155.3 172.4,155.5 172.9,152.1 173.4,150.7 173.9,151.8 174.4,150.2 174.9,148.8 175.4,151.7 175.9,153.8 176.4,152.1 176.9,151.8 177.4,153.0 177.9,151.5 178.4,148.1 178.9,144.6 179.4,139.1 179.9,137.3 180.4,141.1 180.9,147.1 181.4,152.0 181.9,154.7 182.4,155.8 182.9,156.3 183.4,157.1 183.9,157.8 184.4,157.9 184.9,157.6 185.4,156.4 185.9,157.8 186.4,158.2 186.9,157.4 187.4,159.1 187.9,159.5 188.4,161.6 188.9,162.1 189.4,159.1 189.9,159.5 190.4,159.9 190.9,158.4 191.4,159.2 191.9,159.0 192.4,155.4 192.9,156.9 193.4,159.3 193.9,159.7 194.4,159.7 194.9,157.7 195.4,160.4 195.9,160.6 196.4,159.9 196.9,162.2 197.4,162.2 197.9,160.8 198.4,161.0 198.9,161.6 199.4,160.4 199.9,160.0 200.4,161.4 200.9,162.6 201.4,161.9 201.9,158.8 202.4,160.0 202.9,160.3 203.4,160.1 203.9,160.8 204.4,161.9 204.9,161.1 205.4,160.0 205.9,158.0 206.4,157.2 206.9,161.2 207.4,161.6 207.9,159.7 208.4,159.1 208.9,159.9 209.4,161.2 209.9,159.8 210.4,160.7 210.9,161.8 211.4,161.6 211.9,160.6 212.4,161.4 212.9,162.2 213.4,160.4 213.9,159.0 214.4,158.7 214.9,159.3 215.4,158.6 215.9,157.3 216.4,156.1 216.9,153.6 217.4,149.5 217.9,143.8 218.4,140.1 218.9,143.5 219.4,150.6 219.9,154.5 220.4,157.1 220.9,158.6 221.4,158.6 221.9,159.6 222.4,162.0 222.9,163.6 223.4,161.8 223.9,160.9 224.4,161.1 224.9,163.5 225.4,164.2 225.9,162.1 226.4,163.0 226.9,164.9 227.4,164.6 227.9,164.3 228.4,164.2 228.9,164.3 229.4,164.4 229.9,163.0 230.4,164.0 230.9,165.2 231.4,166.1 231.9,163.7 232.4,162.4 232.9,165.5 233.4,164.3 233.9,163.1 234.4,164.2 234.9,164.0 235.4,162.8 235.9,162.0 236.4,163.3 236.9,164.5 237.4,163.7 237.9,162.7 238.4,163.2 238.9,164.2 239.4,163.2 239.9,160.7 240.4,161.8 240.9,162.4 241.4,162.2 241.9,162.9 242.4,164.4 242.9,163.4 243.4,163.9 243.9,163.0 244.4,162.7 244.9,162.8 245.4,160.7 245.9,162.4 246.4,163.2 246.9,160.8 247.4,160.0 247.9,160.1 248.4,159.6 248.9,158.2 249.4,159.1 249.9,159.1 250.4,158.5 250.9,159.3 251.4,162.1 251.9,164.0 252.4,164.4 252.9,163.5 253.4,162.6 253.9,163.9 254.4,163.8 254.9,164.2 255.4,165.4 255.9,164.0 256.4,163.4 256.9,163.8 257.4,165.8 257.9,168.2 258.4,166.2 258.9,163.8 259.4,161.5 259.9,161.7 260.4,163.6 260.9,162.1 261.4,162.8 261.9,162.3 262.4,161.2 262.9,162.5 263.4,161.2 263.9,162.0 264.4,164.2 264.9,161.8 265.4,159.4 265.9,160.8 266.4,161.3 266.9,159.0 267.4,158.0 267.9,158.3 268.4,156.5" fill="none" stroke="#1c1cae" stroke-width="1.55" stroke-linejoin="round" />
<clipPath id="clipM"><rect x="24" y="0" width="246" height="82.5"/></clipPath>
<polyline points="24.9,108.3 25.4,106.2 25.9,108.4 26.4,111.4 26.9,109.1 27.4,108.4 27.9,108.6 28.4,106.8 28.9,106.9 29.4,106.6 29.9,104.7 30.4,103.6 30.9,104.3 31.4,104.6 31.9,104.2 32.4,103.1 32.9,101.8 33.4,100.2 33.9,99.3 34.4,97.8 34.9,94.1 35.4,88.7 35.9,79.7 36.4,72.0 36.9,72.3 37.4,75.7 37.9,80.3 38.4,86.6 38.9,93.9 39.4,98.2 39.9,100.4 40.4,102.7 40.9,102.8 41.4,103.2 41.9,103.4 42.4,104.4 42.9,104.1 43.4,102.7 43.9,104.0 44.4,105.7 44.9,104.6 45.4,101.7 45.9,101.9 46.4,103.6 46.9,103.7 47.4,104.1 47.9,102.8 48.4,103.0 48.9,105.9 49.4,103.4 49.9,103.0 50.4,105.3 50.9,105.5 51.4,105.3 51.9,107.2 52.4,106.4 52.9,103.5 53.4,102.1 53.9,103.0 54.4,103.4 54.9,102.9 55.4,102.7 55.9,103.3 56.4,102.4 56.9,100.3 57.4,99.1 57.9,101.5 58.4,103.2 58.9,102.8 59.4,101.5 59.9,97.6 60.4,95.4 60.9,91.5 61.4,84.0 61.9,75.7 62.4,72.9 62.9,74.7 63.4,79.5 63.9,85.7 64.4,90.4 64.9,95.3 65.4,98.7 65.9,98.8 66.4,100.4 66.9,101.5 67.4,102.6 67.9,105.1 68.4,104.4 68.9,104.6 69.4,105.0 69.9,104.4 70.4,104.5 70.9,104.0 71.4,105.0 71.9,104.7 72.4,104.2 72.9,104.4 73.4,104.7 73.9,104.1 74.4,104.9 74.9,106.7 75.4,108.0 75.9,108.0 76.4,109.7 76.9,109.1 77.4,106.7 77.9,108.3 78.4,107.5 78.9,106.2 79.4,106.6 79.9,106.2 80.4,105.2 80.9,105.8 81.4,107.8 81.9,106.0 82.4,107.8 82.9,109.4 83.4,108.4 83.9,107.1 84.4,107.3 84.9,108.7 85.4,109.4 85.9,110.1 86.4,109.0 86.9,107.7 87.4,108.1 87.9,106.9 88.4,107.1 88.9,107.8 89.4,108.2 89.9,109.4 90.4,107.9 90.9,107.1 91.4,107.3 91.9,108.5 92.4,109.1 92.9,107.2 93.4,106.5 93.9,105.8 94.4,106.7 94.9,107.1 95.4,107.2 95.9,106.2 96.4,106.5 96.9,106.8 97.4,107.6 97.9,107.5 98.4,105.9 98.9,104.0 99.4,103.7 99.9,105.0 100.4,104.5 100.9,105.8 101.4,106.3 101.9,106.6 102.4,107.5 102.9,107.7 103.4,107.4 103.9,105.8 104.4,105.0 104.9,106.0 105.4,105.1 105.9,106.1 106.4,107.7 106.9,107.0 107.4,107.9 107.9,108.2 108.4,107.3 108.9,105.3 109.4,105.0 109.9,105.5 110.4,103.6 110.9,103.0 111.4,102.7 111.9,98.5 112.4,95.0 112.9,90.6 113.4,84.8 113.9,76.6 114.4,63.1 114.9,55.5 115.4,62.5 115.9,75.3 116.4,86.5 116.9,94.7 117.4,98.1 117.9,101.3 118.4,102.0 118.9,103.2 119.4,107.0 119.9,107.3 120.4,106.0 120.9,107.3 121.4,110.1 121.9,110.0 122.4,107.3 122.9,108.9 123.4,108.6 123.9,107.5 124.4,109.2 124.9,109.6 125.4,109.1 125.9,109.7 126.4,110.8 126.9,108.1 127.4,105.8 127.9,107.1 128.4,110.8 128.9,111.4 129.4,110.6 129.9,110.9 130.4,111.5 130.9,112.2 131.4,111.9 131.9,110.8 132.4,111.6 132.9,113.7 133.4,111.5 133.9,112.6 134.4,115.0 134.9,112.2 135.4,110.0 135.9,111.0 136.4,113.4 136.9,112.0 137.4,109.8 137.9,111.3 138.4,112.2 138.9,110.2 139.4,113.7 139.9,115.8 140.4,114.4 140.9,112.1 141.4,112.0 141.9,110.4 142.4,109.9 142.9,111.0 143.4,110.0 143.9,109.1 144.4,111.2 144.9,112.6 145.4,112.5 145.9,113.6 146.4,112.7 146.9,110.7 147.4,110.1 147.9,110.9 148.4,113.7 148.9,113.8 149.4,113.3 149.9,111.9 150.4,109.9 150.9,109.1 151.4,106.9 151.9,107.2 152.4,106.7 152.9,103.5 153.4,103.4 153.9,105.7 154.4,104.9 154.9,104.6 155.4,103.0 155.9,98.8 156.4,93.1 156.9,82.1 157.4,66.0 157.9,55.5 158.4,65.6 158.9,82.6 159.4,94.7 159.9,101.8 160.4,107.2 160.9,110.1 161.4,109.6 161.9,110.5 162.4,110.3 162.9,110.5 163.4,110.7 163.9,107.9 164.4,109.5 164.9,113.1 165.4,110.7 165.9,110.3 166.4,112.4 166.9,111.4 167.4,110.8 167.9,111.9 168.4,113.1 168.9,114.5 169.4,116.8 169.9,115.9 170.4,114.5 170.9,115.0 171.4,114.0 171.9,112.8 172.4,110.2 172.9,110.4 173.4,112.5 173.9,113.5 174.4,112.1 174.9,110.6 175.4,110.4 175.9,112.5 176.4,114.9 176.9,112.2 177.4,109.7 177.9,106.7 178.4,103.9 178.9,99.7 179.4,93.7 179.9,94.7 180.4,100.6 180.9,105.2 181.4,107.9 181.9,109.5 182.4,110.8 182.9,113.6 183.4,118.0 183.9,116.5 184.4,114.8 184.9,117.1 185.4,116.0 185.9,116.2 186.4,116.2 186.9,117.5 187.4,118.5 187.9,117.5 188.4,119.1 188.9,119.0 189.4,116.8 189.9,117.0 190.4,119.4 190.9,120.2 191.4,119.6 191.9,117.9 192.4,117.8 192.9,119.2 193.4,119.3 193.9,120.5 194.4,120.5 194.9,118.0 195.4,116.4 195.9,118.4 196.4,120.1 196.9,119.8 197.4,120.4 197.9,120.8 198.4,121.7 198.9,119.6 199.4,118.4 199.9,119.9 200.4,118.6 200.9,119.2 201.4,121.7 201.9,121.2 202.4,119.7 202.9,119.0 203.4,118.3 203.9,118.3 204.4,118.8 204.9,118.9 205.4,118.4 205.9,118.9 206.4,120.4 206.9,118.9 207.4,118.4 207.9,117.9 208.4,115.0 208.9,116.4 209.4,118.0 209.9,118.8 210.4,117.1 210.9,116.9 211.4,118.4 211.9,120.1 212.4,120.0 212.9,119.1 213.4,118.4 213.9,117.6 214.4,117.7 214.9,117.7 215.4,115.7 215.9,112.8 216.4,111.3 216.9,110.0 217.4,105.3 217.9,99.4 218.4,97.6 218.9,101.1 219.4,106.7 219.9,111.4 220.4,114.0 220.9,113.8 221.4,114.4 221.9,115.4 222.4,115.1 222.9,117.1 223.4,119.4 223.9,117.4 224.4,118.8 224.9,120.8 225.4,118.7 225.9,119.0 226.4,120.2 226.9,119.4 227.4,118.2 227.9,119.3 228.4,121.8 228.9,119.3 229.4,119.2 229.9,122.1 230.4,121.1 230.9,120.4 231.4,120.7 231.9,119.6 232.4,119.7 232.9,121.3 233.4,120.2 233.9,119.5 234.4,120.8 234.9,120.2 235.4,119.6 235.9,118.9 236.4,118.7 236.9,119.7 237.4,120.8 237.9,119.9 238.4,122.4 238.9,122.9 239.4,120.6 239.9,121.1 240.4,120.3 240.9,121.7 241.4,121.7 241.9,121.7 242.4,123.6 242.9,121.6 243.4,121.0 243.9,120.9 244.4,122.3 244.9,123.0 245.4,119.8 245.9,118.0 246.4,117.4 246.9,117.5 247.4,116.9 247.9,115.7 248.4,115.1 248.9,114.9 249.4,116.5 249.9,115.9 250.4,115.4 250.9,117.4 251.4,117.6 251.9,117.9 252.4,119.1 252.9,120.9 253.4,122.1 253.9,121.2 254.4,122.3 254.9,123.2 255.4,122.4 255.9,122.4 256.4,121.8 256.9,121.7 257.4,122.9 257.9,122.0 258.4,120.8 258.9,122.3 259.4,123.7 259.9,125.4 260.4,124.7 260.9,123.1 261.4,123.3 261.9,122.6 262.4,123.3 262.9,122.3 263.4,121.0 263.9,121.3 264.4,120.7 264.9,120.8 265.4,121.2 265.9,121.2 266.4,119.8 266.9,118.3 267.4,115.8 267.9,114.5 268.4,113.6" fill="none" stroke="#c23ec0" stroke-width="0.8" stroke-linejoin="round" clip-path="url(#clipM)" opacity="0.85"/>
</g>
<line x1="24.5" y1="165.2" x2="268.9" y2="165.2" stroke="#161a34" stroke-width="1.5" stroke-dasharray="3.2 4.5"/>
<rect x="24.5" y="2.3" width="244.39999999999998" height="325.3" fill="none" stroke="#111" stroke-width="1.35"/>
<line x1="49.0" y1="327.6" x2="49.0" y2="325.6" stroke="#111" stroke-width="1"/>
<line x1="73.5" y1="327.6" x2="73.5" y2="324.40000000000003" stroke="#111" stroke-width="1"/>
<line x1="98.0" y1="327.6" x2="98.0" y2="325.6" stroke="#111" stroke-width="1"/>
<line x1="122.5" y1="327.6" x2="122.5" y2="324.40000000000003" stroke="#111" stroke-width="1"/>
<line x1="147.0" y1="327.6" x2="147.0" y2="325.6" stroke="#111" stroke-width="1"/>
<line x1="171.5" y1="327.6" x2="171.5" y2="324.40000000000003" stroke="#111" stroke-width="1"/>
<line x1="196.0" y1="327.6" x2="196.0" y2="325.6" stroke="#111" stroke-width="1"/>
<line x1="220.5" y1="327.6" x2="220.5" y2="324.40000000000003" stroke="#111" stroke-width="1"/>
<line x1="245.0" y1="327.6" x2="245.0" y2="325.6" stroke="#111" stroke-width="1"/>
<text x="25.0" y="342" font-family="Liberation Sans, Arial, sans-serif" font-size="10.5" text-anchor="middle" fill="#111" stroke="#111" stroke-width="0.2">10</text>
<text x="74.0" y="342" font-family="Liberation Sans, Arial, sans-serif" font-size="10.5" text-anchor="middle" fill="#111" stroke="#111" stroke-width="0.2">20</text>
<text x="123.0" y="342" font-family="Liberation Sans, Arial, sans-serif" font-size="10.5" text-anchor="middle" fill="#111" stroke="#111" stroke-width="0.2">30</text>
<text x="172.0" y="342" font-family="Liberation Sans, Arial, sans-serif" font-size="10.5" text-anchor="middle" fill="#111" stroke="#111" stroke-width="0.2">40</text>
<text x="221.0" y="342" font-family="Liberation Sans, Arial, sans-serif" font-size="10.5" text-anchor="middle" fill="#111" stroke="#111" stroke-width="0.2">50</text>
<text x="270.0" y="342" font-family="Liberation Sans, Arial, sans-serif" font-size="10.5" text-anchor="middle" fill="#111" stroke="#111" stroke-width="0.2">60</text>
<text x="147.4" y="362" font-family="Liberation Sans, Arial, sans-serif" font-size="13.7" font-weight="bold" text-anchor="middle" fill="#111">2θ(degree)</text>
<text transform="translate(13.2,142.2) rotate(-90)" font-family="Liberation Sans, Arial, sans-serif" font-size="13" font-weight="bold" text-anchor="middle" fill="#111">Intensity (a.u.)</text>
<text x="36.8" y="46.8" font-family="DejaVu Sans, sans-serif" font-size="8" text-anchor="middle" fill="#15151f">★</text>
<text x="62.5" y="52.3" font-family="DejaVu Sans, sans-serif" font-size="8" text-anchor="middle" fill="#15151f">★</text>
<text x="114.6" y="36.8" font-family="DejaVu Sans, sans-serif" font-size="8" text-anchor="middle" fill="#15151f">★</text>
<text x="152.7" y="66.3" font-family="DejaVu Sans, sans-serif" font-size="8" text-anchor="middle" fill="#15151f">★</text>
<text x="157.9" y="12.3" font-family="DejaVu Sans, sans-serif" font-size="8" text-anchor="middle" fill="#15151f">★</text>
<text x="179.6" y="58.3" font-family="DejaVu Sans, sans-serif" font-size="8" text-anchor="middle" fill="#15151f">★</text>
<text x="218.3" y="60.8" font-family="DejaVu Sans, sans-serif" font-size="8" text-anchor="middle" fill="#15151f">★</text>
<text x="249.2" y="73.3" font-family="DejaVu Sans, sans-serif" font-size="8" text-anchor="middle" fill="#15151f">★</text>
<text x="201.4" y="15.2" font-family="DejaVu Sans, sans-serif" font-size="7.4" text-anchor="middle" fill="#15151f" stroke="#15151f" stroke-width="0.5">✱</text>
<text x="205.4" y="15.6" font-family="Liberation Serif, Times New Roman, serif" font-size="13.6" fill="#111" stroke="#111" stroke-width="0.3">Hollandite</text>
<text x="34.9" y="173.20000000000002" font-family="Liberation Sans, Arial, sans-serif" font-size="10.5" font-weight="bold" text-anchor="middle" fill="#111">o</text>
<text x="114.9" y="220.10000000000002" font-family="Liberation Sans, Arial, sans-serif" font-size="10.5" font-weight="bold" text-anchor="middle" fill="#111">o</text>
<text x="157.3" y="203.8" font-family="Liberation Sans, Arial, sans-serif" font-size="10.5" font-weight="bold" text-anchor="middle" fill="#111">o</text>
<text x="202.9" y="193.8" font-family="Liberation Sans, Arial, sans-serif" font-size="10.5" font-weight="bold" text-anchor="middle" fill="#111">o</text>
<text x="209.6" y="195.4" font-family="Liberation Serif, Times New Roman, serif" font-size="13.6" fill="#111" stroke="#111" stroke-width="0.3">Birnessite</text>
<text x="217.8" y="53.3" font-family="Liberation Sans, Arial, sans-serif" font-size="11.1" fill="#111" stroke="#111" stroke-width="0.25">140</text>
<text x="237.6" y="48.0" font-family="Liberation Sans, Arial, sans-serif" font-size="7" fill="#111" stroke="#111" stroke-width="0.25">o</text>
<text x="242.5" y="53.3" font-family="Liberation Sans, Arial, sans-serif" font-size="11.1" fill="#111" stroke="#111" stroke-width="0.25">C/7h</text>
<text x="220.6" y="108.3" font-family="Liberation Sans, Arial, sans-serif" font-size="11.1" fill="#111" stroke="#111" stroke-width="0.25">140</text>
<text x="240.4" y="103.0" font-family="Liberation Sans, Arial, sans-serif" font-size="7" fill="#111" stroke="#111" stroke-width="0.25">o</text>
<text x="245.3" y="108.3" font-family="Liberation Sans, Arial, sans-serif" font-size="11.1" fill="#111" stroke="#111" stroke-width="0.25">C/5h</text>
<text x="220.6" y="147.3" font-family="Liberation Sans, Arial, sans-serif" font-size="11.1" fill="#111" stroke="#111" stroke-width="0.25">140</text>
<text x="240.4" y="142.0" font-family="Liberation Sans, Arial, sans-serif" font-size="7" fill="#111" stroke="#111" stroke-width="0.25">o</text>
<text x="245.3" y="147.3" font-family="Liberation Sans, Arial, sans-serif" font-size="11.1" fill="#111" stroke="#111" stroke-width="0.25">C/3h</text>
<text x="219.6" y="254.6" font-family="Liberation Sans, Arial, sans-serif" font-size="11.1" fill="#111" stroke="#111" stroke-width="0.25">140</text>
<text x="239.4" y="249.3" font-family="Liberation Sans, Arial, sans-serif" font-size="7" fill="#111" stroke="#111" stroke-width="0.25">o</text>
<text x="244.3" y="254.6" font-family="Liberation Sans, Arial, sans-serif" font-size="11.1" fill="#111" stroke="#111" stroke-width="0.25">C/1h</text>
<text x="220.6" y="316.4" font-family="Liberation Sans, Arial, sans-serif" font-size="11.1" fill="#111" stroke="#111" stroke-width="0.25">100</text>
<text x="242.0" y="311.1" font-family="Liberation Sans, Arial, sans-serif" font-size="7" fill="#111" stroke="#111" stroke-width="0.25">o</text>
<text x="245.7" y="316.4" font-family="Liberation Sans, Arial, sans-serif" font-size="11.1" fill="#111" stroke="#111" stroke-width="0.25">C/1h</text>
<polygon points="375.8,132.9 385.5,126.8 394.2,131.1 385.9,139.0" fill="#5b54de" fill-opacity="0.52" stroke="#7d78e8" stroke-width="0.4"/>
<polygon points="361.4,102.7 369.7,94.8 379.8,100.9 370.1,107.0" fill="#5b54de" fill-opacity="0.52" stroke="#7d78e8" stroke-width="0.4"/>
<polygon points="355.7,125.0 361.8,114.9 367.9,124.6 363.6,133.3" fill="#5b54de" fill-opacity="0.52" stroke="#7d78e8" stroke-width="0.4"/>
<polygon points="387.7,109.2 392.0,100.5 399.9,108.8 393.8,118.9" fill="#5b54de" fill-opacity="0.52" stroke="#7d78e8" stroke-width="0.4"/>
<polygon points="351.7,108.8 361.4,102.7 370.1,107.0 361.8,114.9" fill="#5b54de" fill-opacity="0.52" stroke="#7d78e8" stroke-width="0.4"/>
<polygon points="385.5,126.8 393.8,118.9 403.9,125.0 394.2,131.1" fill="#5b54de" fill-opacity="0.52" stroke="#7d78e8" stroke-width="0.4"/>
<polygon points="379.8,100.9 385.9,90.8 392.0,100.5 387.7,109.2" fill="#5b54de" fill-opacity="0.52" stroke="#7d78e8" stroke-width="0.4"/>
<polygon points="363.6,133.3 367.9,124.6 375.8,132.9 369.7,143.0" fill="#5b54de" fill-opacity="0.52" stroke="#7d78e8" stroke-width="0.4"/>
<polygon points="375.8,84.7 385.5,78.6 394.2,82.9 385.9,90.8" fill="#5b54de" fill-opacity="0.52" stroke="#7d78e8" stroke-width="0.4"/>
<polygon points="361.4,54.5 369.7,46.6 379.8,52.7 370.1,58.8" fill="#5b54de" fill-opacity="0.52" stroke="#7d78e8" stroke-width="0.4"/>
<polygon points="355.7,76.8 361.8,66.7 367.9,76.4 363.6,85.1" fill="#5b54de" fill-opacity="0.52" stroke="#7d78e8" stroke-width="0.4"/>
<polygon points="387.7,61.0 392.0,52.3 399.9,60.6 393.8,70.7" fill="#5b54de" fill-opacity="0.52" stroke="#7d78e8" stroke-width="0.4"/>
<polygon points="351.7,60.6 361.4,54.5 370.1,58.8 361.8,66.7" fill="#5b54de" fill-opacity="0.52" stroke="#7d78e8" stroke-width="0.4"/>
<polygon points="385.5,78.6 393.8,70.7 403.9,76.8 394.2,82.9" fill="#5b54de" fill-opacity="0.52" stroke="#7d78e8" stroke-width="0.4"/>
<polygon points="379.8,52.7 385.9,42.6 392.0,52.3 387.7,61.0" fill="#5b54de" fill-opacity="0.52" stroke="#7d78e8" stroke-width="0.4"/>
<polygon points="363.6,85.1 367.9,76.4 375.8,84.7 369.7,94.8" fill="#5b54de" fill-opacity="0.52" stroke="#7d78e8" stroke-width="0.4"/>
<polygon points="327.6,132.9 337.3,126.8 346.0,131.1 337.7,139.0" fill="#5b54de" fill-opacity="0.52" stroke="#7d78e8" stroke-width="0.4"/>
<polygon points="313.2,102.7 321.5,94.8 331.6,100.9 321.9,107.0" fill="#5b54de" fill-opacity="0.52" stroke="#7d78e8" stroke-width="0.4"/>
<polygon points="307.5,125.0 313.6,114.9 319.7,124.6 315.4,133.3" fill="#5b54de" fill-opacity="0.52" stroke="#7d78e8" stroke-width="0.4"/>
<polygon points="339.5,109.2 343.8,100.5 351.7,108.8 345.6,118.9" fill="#5b54de" fill-opacity="0.52" stroke="#7d78e8" stroke-width="0.4"/>
<polygon points="303.5,108.8 313.2,102.7 321.9,107.0 313.6,114.9" fill="#5b54de" fill-opacity="0.52" stroke="#7d78e8" stroke-width="0.4"/>
<polygon points="337.3,126.8 345.6,118.9 355.7,125.0 346.0,131.1" fill="#5b54de" fill-opacity="0.52" stroke="#7d78e8" stroke-width="0.4"/>
<polygon points="331.6,100.9 337.7,90.8 343.8,100.5 339.5,109.2" fill="#5b54de" fill-opacity="0.52" stroke="#7d78e8" stroke-width="0.4"/>
<polygon points="315.4,133.3 319.7,124.6 327.6,132.9 321.5,143.0" fill="#5b54de" fill-opacity="0.52" stroke="#7d78e8" stroke-width="0.4"/>
<polygon points="327.6,84.7 337.3,78.6 346.0,82.9 337.7,90.8" fill="#5b54de" fill-opacity="0.52" stroke="#7d78e8" stroke-width="0.4"/>
<polygon points="313.2,54.5 321.5,46.6 331.6,52.7 321.9,58.8" fill="#5b54de" fill-opacity="0.52" stroke="#7d78e8" stroke-width="0.4"/>
<polygon points="307.5,76.8 313.6,66.7 319.7,76.4 315.4,85.1" fill="#5b54de" fill-opacity="0.52" stroke="#7d78e8" stroke-width="0.4"/>
<polygon points="339.5,61.0 343.8,52.3 351.7,60.6 345.6,70.7" fill="#5b54de" fill-opacity="0.52" stroke="#7d78e8" stroke-width="0.4"/>
<polygon points="303.5,60.6 313.2,54.5 321.9,58.8 313.6,66.7" fill="#5b54de" fill-opacity="0.52" stroke="#7d78e8" stroke-width="0.4"/>
<polygon points="337.3,78.6 345.6,70.7 355.7,76.8 346.0,82.9" fill="#5b54de" fill-opacity="0.52" stroke="#7d78e8" stroke-width="0.4"/>
<polygon points="331.6,52.7 337.7,42.6 343.8,52.3 339.5,61.0" fill="#5b54de" fill-opacity="0.52" stroke="#7d78e8" stroke-width="0.4"/>
<polygon points="315.4,85.1 319.7,76.4 327.6,84.7 321.5,94.8" fill="#5b54de" fill-opacity="0.52" stroke="#7d78e8" stroke-width="0.4"/>
<polygon points="376.9,134.8 387.0,128.4 396.2,132.9 387.4,141.2" fill="#5b54de" fill-opacity="0.52" stroke="#7d78e8" stroke-width="0.4"/>
<polygon points="361.7,103.2 370.5,94.9 381.0,101.3 370.9,107.7" fill="#5b54de" fill-opacity="0.52" stroke="#7d78e8" stroke-width="0.4"/>
<polygon points="355.8,126.5 362.2,116.0 368.6,126.1 364.1,135.3" fill="#5b54de" fill-opacity="0.52" stroke="#7d78e8" stroke-width="0.4"/>
<polygon points="389.3,110.0 393.8,100.8 402.1,109.6 395.7,120.1" fill="#5b54de" fill-opacity="0.52" stroke="#7d78e8" stroke-width="0.4"/>
<polygon points="351.6,109.6 361.7,103.2 370.9,107.7 362.2,116.0" fill="#5b54de" fill-opacity="0.52" stroke="#7d78e8" stroke-width="0.4"/>
<polygon points="387.0,128.4 395.7,120.1 406.3,126.5 396.2,132.9" fill="#5b54de" fill-opacity="0.52" stroke="#7d78e8" stroke-width="0.4"/>
<polygon points="381.0,101.3 387.4,90.7 393.8,100.8 389.3,110.0" fill="#5b54de" fill-opacity="0.52" stroke="#7d78e8" stroke-width="0.4"/>
<polygon points="364.1,135.3 368.6,126.1 376.9,134.8 370.5,145.4" fill="#5b54de" fill-opacity="0.52" stroke="#7d78e8" stroke-width="0.4"/>
<polygon points="376.9,84.3 387.0,77.9 396.2,82.4 387.4,90.7" fill="#5b54de" fill-opacity="0.52" stroke="#7d78e8" stroke-width="0.4"/>
<polygon points="361.7,52.7 370.5,44.4 381.0,50.8 370.9,57.2" fill="#5b54de" fill-opacity="0.52" stroke="#7d78e8" stroke-width="0.4"/>
<polygon points="355.8,76.0 362.2,65.5 368.6,75.6 364.1,84.8" fill="#5b54de" fill-opacity="0.52" stroke="#7d78e8" stroke-width="0.4"/>
<polygon points="389.3,59.5 393.8,50.3 402.1,59.1 395.7,69.6" fill="#5b54de" fill-opacity="0.52" stroke="#7d78e8" stroke-width="0.4"/>
<polygon points="351.6,59.1 361.7,52.7 370.9,57.2 362.2,65.5" fill="#5b54de" fill-opacity="0.52" stroke="#7d78e8" stroke-width="0.4"/>
<polygon points="387.0,77.9 395.7,69.6 406.3,76.0 396.2,82.4" fill="#5b54de" fill-opacity="0.52" stroke="#7d78e8" stroke-width="0.4"/>
<polygon points="381.0,50.8 387.4,40.2 393.8,50.3 389.3,59.5" fill="#5b54de" fill-opacity="0.52" stroke="#7d78e8" stroke-width="0.4"/>
<polygon points="364.1,84.8 368.6,75.6 376.9,84.3 370.5,94.9" fill="#5b54de" fill-opacity="0.52" stroke="#7d78e8" stroke-width="0.4"/>
<polygon points="326.4,134.8 336.5,128.4 345.7,132.9 336.9,141.2" fill="#5b54de" fill-opacity="0.52" stroke="#7d78e8" stroke-width="0.4"/>
<polygon points="311.2,103.2 320.0,94.9 330.5,101.3 320.4,107.7" fill="#5b54de" fill-opacity="0.52" stroke="#7d78e8" stroke-width="0.4"/>
<polygon points="305.3,126.5 311.7,116.0 318.1,126.1 313.6,135.3" fill="#5b54de" fill-opacity="0.52" stroke="#7d78e8" stroke-width="0.4"/>
<polygon points="338.8,110.0 343.3,100.8 351.6,109.6 345.2,120.1" fill="#5b54de" fill-opacity="0.52" stroke="#7d78e8" stroke-width="0.4"/>
<polygon points="301.1,109.6 311.2,103.2 320.4,107.7 311.7,116.0" fill="#5b54de" fill-opacity="0.52" stroke="#7d78e8" stroke-width="0.4"/>
<polygon points="336.5,128.4 345.2,120.1 355.8,126.5 345.7,132.9" fill="#5b54de" fill-opacity="0.52" stroke="#7d78e8" stroke-width="0.4"/>
<polygon points="330.5,101.3 336.9,90.7 343.3,100.8 338.8,110.0" fill="#5b54de" fill-opacity="0.52" stroke="#7d78e8" stroke-width="0.4"/>
<polygon points="313.6,135.3 318.1,126.1 326.4,134.8 320.0,145.4" fill="#5b54de" fill-opacity="0.52" stroke="#7d78e8" stroke-width="0.4"/>
<polygon points="326.4,84.3 336.5,77.9 345.7,82.4 336.9,90.7" fill="#5b54de" fill-opacity="0.52" stroke="#7d78e8" stroke-width="0.4"/>
<polygon points="311.2,52.7 320.0,44.4 330.5,50.8 320.4,57.2" fill="#5b54de" fill-opacity="0.52" stroke="#7d78e8" stroke-width="0.4"/>
<polygon points="305.3,76.0 311.7,65.5 318.1,75.6 313.6,84.8" fill="#5b54de" fill-opacity="0.52" stroke="#7d78e8" stroke-width="0.4"/>
<polygon points="338.8,59.5 343.3,50.3 351.6,59.1 345.2,69.6" fill="#5b54de" fill-opacity="0.52" stroke="#7d78e8" stroke-width="0.4"/>
<polygon points="301.1,59.1 311.2,52.7 320.4,57.2 311.7,65.5" fill="#5b54de" fill-opacity="0.52" stroke="#7d78e8" stroke-width="0.4"/>
<polygon points="336.5,77.9 345.2,69.6 355.8,76.0 345.7,82.4" fill="#5b54de" fill-opacity="0.52" stroke="#7d78e8" stroke-width="0.4"/>
<polygon points="330.5,50.8 336.9,40.2 343.3,50.3 338.8,59.5" fill="#5b54de" fill-opacity="0.52" stroke="#7d78e8" stroke-width="0.4"/>
<polygon points="313.6,84.8 318.1,75.6 326.4,84.3 320.0,94.9" fill="#5b54de" fill-opacity="0.52" stroke="#7d78e8" stroke-width="0.4"/>
<line x1="385.7" y1="133.8" x2="395.2" y2="132.0" stroke="#9c97f2" stroke-width="0.5" opacity="0.7"/>
<line x1="385.7" y1="133.8" x2="386.6" y2="140.1" stroke="#9c97f2" stroke-width="0.5" opacity="0.7"/>
<line x1="385.7" y1="133.8" x2="386.2" y2="127.6" stroke="#9c97f2" stroke-width="0.5" opacity="0.7"/>
<line x1="385.7" y1="133.8" x2="376.4" y2="133.9" stroke="#9c97f2" stroke-width="0.5" opacity="0.7"/>
<line x1="371.1" y1="101.2" x2="380.4" y2="101.1" stroke="#9c97f2" stroke-width="0.5" opacity="0.7"/>
<line x1="371.1" y1="101.2" x2="370.5" y2="107.3" stroke="#9c97f2" stroke-width="0.5" opacity="0.7"/>
<line x1="371.1" y1="101.2" x2="370.1" y2="94.8" stroke="#9c97f2" stroke-width="0.5" opacity="0.7"/>
<line x1="371.1" y1="101.2" x2="361.5" y2="102.9" stroke="#9c97f2" stroke-width="0.5" opacity="0.7"/>
<line x1="362.1" y1="124.8" x2="368.2" y2="125.3" stroke="#9c97f2" stroke-width="0.5" opacity="0.7"/>
<line x1="362.1" y1="124.8" x2="363.8" y2="134.3" stroke="#9c97f2" stroke-width="0.5" opacity="0.7"/>
<line x1="362.1" y1="124.8" x2="362.0" y2="115.5" stroke="#9c97f2" stroke-width="0.5" opacity="0.7"/>
<line x1="362.1" y1="124.8" x2="355.7" y2="125.7" stroke="#9c97f2" stroke-width="0.5" opacity="0.7"/>
<line x1="394.7" y1="110.2" x2="401.0" y2="109.2" stroke="#9c97f2" stroke-width="0.5" opacity="0.7"/>
<line x1="394.7" y1="110.2" x2="394.8" y2="119.5" stroke="#9c97f2" stroke-width="0.5" opacity="0.7"/>
<line x1="394.7" y1="110.2" x2="392.9" y2="100.6" stroke="#9c97f2" stroke-width="0.5" opacity="0.7"/>
<line x1="394.7" y1="110.2" x2="388.5" y2="109.6" stroke="#9c97f2" stroke-width="0.5" opacity="0.7"/>
<line x1="361.0" y1="109.1" x2="370.5" y2="107.3" stroke="#9c97f2" stroke-width="0.5" opacity="0.7"/>
<line x1="361.0" y1="109.1" x2="362.0" y2="115.5" stroke="#9c97f2" stroke-width="0.5" opacity="0.7"/>
<line x1="361.0" y1="109.1" x2="361.5" y2="102.9" stroke="#9c97f2" stroke-width="0.5" opacity="0.7"/>
<line x1="361.0" y1="109.1" x2="351.7" y2="109.2" stroke="#9c97f2" stroke-width="0.5" opacity="0.7"/>
<line x1="395.7" y1="125.8" x2="405.1" y2="125.7" stroke="#9c97f2" stroke-width="0.5" opacity="0.7"/>
<line x1="395.7" y1="125.8" x2="395.2" y2="132.0" stroke="#9c97f2" stroke-width="0.5" opacity="0.7"/>
<line x1="395.7" y1="125.8" x2="394.8" y2="119.5" stroke="#9c97f2" stroke-width="0.5" opacity="0.7"/>
<line x1="395.7" y1="125.8" x2="386.2" y2="127.6" stroke="#9c97f2" stroke-width="0.5" opacity="0.7"/>
<line x1="386.7" y1="100.1" x2="392.9" y2="100.6" stroke="#9c97f2" stroke-width="0.5" opacity="0.7"/>
<line x1="386.7" y1="100.1" x2="388.5" y2="109.6" stroke="#9c97f2" stroke-width="0.5" opacity="0.7"/>
<line x1="386.7" y1="100.1" x2="386.6" y2="90.8" stroke="#9c97f2" stroke-width="0.5" opacity="0.7"/>
<line x1="386.7" y1="100.1" x2="380.4" y2="101.1" stroke="#9c97f2" stroke-width="0.5" opacity="0.7"/>
<line x1="370.0" y1="134.8" x2="376.4" y2="133.9" stroke="#9c97f2" stroke-width="0.5" opacity="0.7"/>
<line x1="370.0" y1="134.8" x2="370.1" y2="144.2" stroke="#9c97f2" stroke-width="0.5" opacity="0.7"/>
<line x1="370.0" y1="134.8" x2="368.2" y2="125.3" stroke="#9c97f2" stroke-width="0.5" opacity="0.7"/>
<line x1="370.0" y1="134.8" x2="363.8" y2="134.3" stroke="#9c97f2" stroke-width="0.5" opacity="0.7"/>
<line x1="385.7" y1="84.4" x2="395.2" y2="82.7" stroke="#9c97f2" stroke-width="0.5" opacity="0.7"/>
<line x1="385.7" y1="84.4" x2="386.6" y2="90.8" stroke="#9c97f2" stroke-width="0.5" opacity="0.7"/>
<line x1="385.7" y1="84.4" x2="386.2" y2="78.3" stroke="#9c97f2" stroke-width="0.5" opacity="0.7"/>
<line x1="385.7" y1="84.4" x2="376.4" y2="84.5" stroke="#9c97f2" stroke-width="0.5" opacity="0.7"/>
<line x1="371.1" y1="51.8" x2="380.4" y2="51.7" stroke="#9c97f2" stroke-width="0.5" opacity="0.7"/>
<line x1="371.1" y1="51.8" x2="370.5" y2="58.0" stroke="#9c97f2" stroke-width="0.5" opacity="0.7"/>
<line x1="371.1" y1="51.8" x2="370.1" y2="45.5" stroke="#9c97f2" stroke-width="0.5" opacity="0.7"/>
<line x1="371.1" y1="51.8" x2="361.5" y2="53.6" stroke="#9c97f2" stroke-width="0.5" opacity="0.7"/>
<line x1="362.1" y1="75.4" x2="368.2" y2="76.0" stroke="#9c97f2" stroke-width="0.5" opacity="0.7"/>
<line x1="362.1" y1="75.4" x2="363.8" y2="85.0" stroke="#9c97f2" stroke-width="0.5" opacity="0.7"/>
<line x1="362.1" y1="75.4" x2="362.0" y2="66.1" stroke="#9c97f2" stroke-width="0.5" opacity="0.7"/>
<line x1="362.1" y1="75.4" x2="355.7" y2="76.4" stroke="#9c97f2" stroke-width="0.5" opacity="0.7"/>
<line x1="394.7" y1="60.8" x2="401.0" y2="59.8" stroke="#9c97f2" stroke-width="0.5" opacity="0.7"/>
<line x1="394.7" y1="60.8" x2="394.8" y2="70.1" stroke="#9c97f2" stroke-width="0.5" opacity="0.7"/>
<line x1="394.7" y1="60.8" x2="392.9" y2="51.3" stroke="#9c97f2" stroke-width="0.5" opacity="0.7"/>
<line x1="394.7" y1="60.8" x2="388.5" y2="60.3" stroke="#9c97f2" stroke-width="0.5" opacity="0.7"/>
<line x1="361.0" y1="59.8" x2="370.5" y2="58.0" stroke="#9c97f2" stroke-width="0.5" opacity="0.7"/>
<line x1="361.0" y1="59.8" x2="362.0" y2="66.1" stroke="#9c97f2" stroke-width="0.5" opacity="0.7"/>
<line x1="361.0" y1="59.8" x2="361.5" y2="53.6" stroke="#9c97f2" stroke-width="0.5" opacity="0.7"/>
<line x1="361.0" y1="59.8" x2="351.7" y2="59.8" stroke="#9c97f2" stroke-width="0.5" opacity="0.7"/>
<line x1="395.7" y1="76.5" x2="405.1" y2="76.4" stroke="#9c97f2" stroke-width="0.5" opacity="0.7"/>
<line x1="395.7" y1="76.5" x2="395.2" y2="82.7" stroke="#9c97f2" stroke-width="0.5" opacity="0.7"/>
<line x1="395.7" y1="76.5" x2="394.8" y2="70.1" stroke="#9c97f2" stroke-width="0.5" opacity="0.7"/>
<line x1="395.7" y1="76.5" x2="386.2" y2="78.3" stroke="#9c97f2" stroke-width="0.5" opacity="0.7"/>
<line x1="386.7" y1="50.8" x2="392.9" y2="51.3" stroke="#9c97f2" stroke-width="0.5" opacity="0.7"/>
<line x1="386.7" y1="50.8" x2="388.5" y2="60.3" stroke="#9c97f2" stroke-width="0.5" opacity="0.7"/>
<line x1="386.7" y1="50.8" x2="386.6" y2="41.4" stroke="#9c97f2" stroke-width="0.5" opacity="0.7"/>
<line x1="386.7" y1="50.8" x2="380.4" y2="51.7" stroke="#9c97f2" stroke-width="0.5" opacity="0.7"/>
<line x1="370.0" y1="85.5" x2="376.4" y2="84.5" stroke="#9c97f2" stroke-width="0.5" opacity="0.7"/>
<line x1="370.0" y1="85.5" x2="370.1" y2="94.8" stroke="#9c97f2" stroke-width="0.5" opacity="0.7"/>
<line x1="370.0" y1="85.5" x2="368.2" y2="76.0" stroke="#9c97f2" stroke-width="0.5" opacity="0.7"/>
<line x1="370.0" y1="85.5" x2="363.8" y2="85.0" stroke="#9c97f2" stroke-width="0.5" opacity="0.7"/>
<line x1="336.3" y1="133.8" x2="345.9" y2="132.0" stroke="#9c97f2" stroke-width="0.5" opacity="0.7"/>
<line x1="336.3" y1="133.8" x2="337.3" y2="140.1" stroke="#9c97f2" stroke-width="0.5" opacity="0.7"/>
<line x1="336.3" y1="133.8" x2="336.9" y2="127.6" stroke="#9c97f2" stroke-width="0.5" opacity="0.7"/>
<line x1="336.3" y1="133.8" x2="327.0" y2="133.9" stroke="#9c97f2" stroke-width="0.5" opacity="0.7"/>
<line x1="321.7" y1="101.2" x2="331.0" y2="101.1" stroke="#9c97f2" stroke-width="0.5" opacity="0.7"/>
<line x1="321.7" y1="101.2" x2="321.2" y2="107.3" stroke="#9c97f2" stroke-width="0.5" opacity="0.7"/>
<line x1="321.7" y1="101.2" x2="320.8" y2="94.8" stroke="#9c97f2" stroke-width="0.5" opacity="0.7"/>
<line x1="321.7" y1="101.2" x2="312.2" y2="102.9" stroke="#9c97f2" stroke-width="0.5" opacity="0.7"/>
<line x1="312.7" y1="124.8" x2="318.9" y2="125.3" stroke="#9c97f2" stroke-width="0.5" opacity="0.7"/>
<line x1="312.7" y1="124.8" x2="314.5" y2="134.3" stroke="#9c97f2" stroke-width="0.5" opacity="0.7"/>
<line x1="312.7" y1="124.8" x2="312.6" y2="115.5" stroke="#9c97f2" stroke-width="0.5" opacity="0.7"/>
<line x1="312.7" y1="124.8" x2="306.4" y2="125.7" stroke="#9c97f2" stroke-width="0.5" opacity="0.7"/>
<line x1="345.3" y1="110.2" x2="351.7" y2="109.2" stroke="#9c97f2" stroke-width="0.5" opacity="0.7"/>
<line x1="345.3" y1="110.2" x2="345.4" y2="119.5" stroke="#9c97f2" stroke-width="0.5" opacity="0.7"/>
<line x1="345.3" y1="110.2" x2="343.6" y2="100.6" stroke="#9c97f2" stroke-width="0.5" opacity="0.7"/>
<line x1="345.3" y1="110.2" x2="339.2" y2="109.6" stroke="#9c97f2" stroke-width="0.5" opacity="0.7"/>
<line x1="311.7" y1="109.1" x2="321.2" y2="107.3" stroke="#9c97f2" stroke-width="0.5" opacity="0.7"/>
<line x1="311.7" y1="109.1" x2="312.6" y2="115.5" stroke="#9c97f2" stroke-width="0.5" opacity="0.7"/>
<line x1="311.7" y1="109.1" x2="312.2" y2="102.9" stroke="#9c97f2" stroke-width="0.5" opacity="0.7"/>
<line x1="311.7" y1="109.1" x2="302.3" y2="109.2" stroke="#9c97f2" stroke-width="0.5" opacity="0.7"/>
<line x1="346.4" y1="125.8" x2="355.7" y2="125.7" stroke="#9c97f2" stroke-width="0.5" opacity="0.7"/>
<line x1="346.4" y1="125.8" x2="345.9" y2="132.0" stroke="#9c97f2" stroke-width="0.5" opacity="0.7"/>
<line x1="346.4" y1="125.8" x2="345.4" y2="119.5" stroke="#9c97f2" stroke-width="0.5" opacity="0.7"/>
<line x1="346.4" y1="125.8" x2="336.9" y2="127.6" stroke="#9c97f2" stroke-width="0.5" opacity="0.7"/>
<line x1="337.4" y1="100.1" x2="343.6" y2="100.6" stroke="#9c97f2" stroke-width="0.5" opacity="0.7"/>
<line x1="337.4" y1="100.1" x2="339.2" y2="109.6" stroke="#9c97f2" stroke-width="0.5" opacity="0.7"/>
<line x1="337.4" y1="100.1" x2="337.3" y2="90.8" stroke="#9c97f2" stroke-width="0.5" opacity="0.7"/>
<line x1="337.4" y1="100.1" x2="331.0" y2="101.1" stroke="#9c97f2" stroke-width="0.5" opacity="0.7"/>
<line x1="320.7" y1="134.8" x2="327.0" y2="133.9" stroke="#9c97f2" stroke-width="0.5" opacity="0.7"/>
<line x1="320.7" y1="134.8" x2="320.8" y2="144.2" stroke="#9c97f2" stroke-width="0.5" opacity="0.7"/>
<line x1="320.7" y1="134.8" x2="318.9" y2="125.3" stroke="#9c97f2" stroke-width="0.5" opacity="0.7"/>
<line x1="320.7" y1="134.8" x2="314.5" y2="134.3" stroke="#9c97f2" stroke-width="0.5" opacity="0.7"/>
<line x1="336.3" y1="84.4" x2="345.9" y2="82.7" stroke="#9c97f2" stroke-width="0.5" opacity="0.7"/>
<line x1="336.3" y1="84.4" x2="337.3" y2="90.8" stroke="#9c97f2" stroke-width="0.5" opacity="0.7"/>
<line x1="336.3" y1="84.4" x2="336.9" y2="78.3" stroke="#9c97f2" stroke-width="0.5" opacity="0.7"/>
<line x1="336.3" y1="84.4" x2="327.0" y2="84.5" stroke="#9c97f2" stroke-width="0.5" opacity="0.7"/>
<line x1="321.7" y1="51.8" x2="331.0" y2="51.7" stroke="#9c97f2" stroke-width="0.5" opacity="0.7"/>
<line x1="321.7" y1="51.8" x2="321.2" y2="58.0" stroke="#9c97f2" stroke-width="0.5" opacity="0.7"/>
<line x1="321.7" y1="51.8" x2="320.8" y2="45.5" stroke="#9c97f2" stroke-width="0.5" opacity="0.7"/>
<line x1="321.7" y1="51.8" x2="312.2" y2="53.6" stroke="#9c97f2" stroke-width="0.5" opacity="0.7"/>
<line x1="312.7" y1="75.4" x2="318.9" y2="76.0" stroke="#9c97f2" stroke-width="0.5" opacity="0.7"/>
<line x1="312.7" y1="75.4" x2="314.5" y2="85.0" stroke="#9c97f2" stroke-width="0.5" opacity="0.7"/>
<line x1="312.7" y1="75.4" x2="312.6" y2="66.1" stroke="#9c97f2" stroke-width="0.5" opacity="0.7"/>
<line x1="312.7" y1="75.4" x2="306.4" y2="76.4" stroke="#9c97f2" stroke-width="0.5" opacity="0.7"/>
<line x1="345.3" y1="60.8" x2="351.7" y2="59.8" stroke="#9c97f2" stroke-width="0.5" opacity="0.7"/>
<line x1="345.3" y1="60.8" x2="345.4" y2="70.1" stroke="#9c97f2" stroke-width="0.5" opacity="0.7"/>
<line x1="345.3" y1="60.8" x2="343.6" y2="51.3" stroke="#9c97f2" stroke-width="0.5" opacity="0.7"/>
<line x1="345.3" y1="60.8" x2="339.2" y2="60.3" stroke="#9c97f2" stroke-width="0.5" opacity="0.7"/>
<line x1="311.7" y1="59.8" x2="321.2" y2="58.0" stroke="#9c97f2" stroke-width="0.5" opacity="0.7"/>
<line x1="311.7" y1="59.8" x2="312.6" y2="66.1" stroke="#9c97f2" stroke-width="0.5" opacity="0.7"/>
<line x1="311.7" y1="59.8" x2="312.2" y2="53.6" stroke="#9c97f2" stroke-width="0.5" opacity="0.7"/>
<line x1="311.7" y1="59.8" x2="302.3" y2="59.8" stroke="#9c97f2" stroke-width="0.5" opacity="0.7"/>
<line x1="346.4" y1="76.5" x2="355.7" y2="76.4" stroke="#9c97f2" stroke-width="0.5" opacity="0.7"/>
<line x1="346.4" y1="76.5" x2="345.9" y2="82.7" stroke="#9c97f2" stroke-width="0.5" opacity="0.7"/>
<line x1="346.4" y1="76.5" x2="345.4" y2="70.1" stroke="#9c97f2" stroke-width="0.5" opacity="0.7"/>
<line x1="346.4" y1="76.5" x2="336.9" y2="78.3" stroke="#9c97f2" stroke-width="0.5" opacity="0.7"/>
<line x1="337.4" y1="50.8" x2="343.6" y2="51.3" stroke="#9c97f2" stroke-width="0.5" opacity="0.7"/>
<line x1="337.4" y1="50.8" x2="339.2" y2="60.3" stroke="#9c97f2" stroke-width="0.5" opacity="0.7"/>
<line x1="337.4" y1="50.8" x2="337.3" y2="41.4" stroke="#9c97f2" stroke-width="0.5" opacity="0.7"/>
<line x1="337.4" y1="50.8" x2="331.0" y2="51.7" stroke="#9c97f2" stroke-width="0.5" opacity="0.7"/>
<line x1="320.7" y1="85.5" x2="327.0" y2="84.5" stroke="#9c97f2" stroke-width="0.5" opacity="0.7"/>
<line x1="320.7" y1="85.5" x2="320.8" y2="94.8" stroke="#9c97f2" stroke-width="0.5" opacity="0.7"/>
<line x1="320.7" y1="85.5" x2="318.9" y2="76.0" stroke="#9c97f2" stroke-width="0.5" opacity="0.7"/>
<line x1="320.7" y1="85.5" x2="314.5" y2="85.0" stroke="#9c97f2" stroke-width="0.5" opacity="0.7"/>
<circle cx="385.7" cy="133.8" r="1.8" fill="#a592f0" fill-opacity="0.9"/>
<circle cx="371.1" cy="101.2" r="1.8" fill="#a592f0" fill-opacity="0.9"/>
<circle cx="362.1" cy="124.8" r="1.8" fill="#a592f0" fill-opacity="0.9"/>
<circle cx="394.7" cy="110.2" r="1.8" fill="#a592f0" fill-opacity="0.9"/>
<circle cx="361.0" cy="109.1" r="1.8" fill="#a592f0" fill-opacity="0.9"/>
<circle cx="395.7" cy="125.8" r="1.8" fill="#a592f0" fill-opacity="0.9"/>
<circle cx="386.7" cy="100.1" r="1.8" fill="#a592f0" fill-opacity="0.9"/>
<circle cx="370.0" cy="134.8" r="1.8" fill="#a592f0" fill-opacity="0.9"/>
<circle cx="385.7" cy="84.4" r="1.8" fill="#a592f0" fill-opacity="0.9"/>
<circle cx="371.1" cy="51.8" r="1.8" fill="#a592f0" fill-opacity="0.9"/>
<circle cx="362.1" cy="75.4" r="1.8" fill="#a592f0" fill-opacity="0.9"/>
<circle cx="394.7" cy="60.8" r="1.8" fill="#a592f0" fill-opacity="0.9"/>
<circle cx="361.0" cy="59.8" r="1.8" fill="#a592f0" fill-opacity="0.9"/>
<circle cx="395.7" cy="76.5" r="1.8" fill="#a592f0" fill-opacity="0.9"/>
<circle cx="386.7" cy="50.8" r="1.8" fill="#a592f0" fill-opacity="0.9"/>
<circle cx="370.0" cy="85.5" r="1.8" fill="#a592f0" fill-opacity="0.9"/>
<circle cx="336.3" cy="133.8" r="1.8" fill="#a592f0" fill-opacity="0.9"/>
<circle cx="321.7" cy="101.2" r="1.8" fill="#a592f0" fill-opacity="0.9"/>
<circle cx="312.7" cy="124.8" r="1.8" fill="#a592f0" fill-opacity="0.9"/>
<circle cx="345.3" cy="110.2" r="1.8" fill="#a592f0" fill-opacity="0.9"/>
<circle cx="311.7" cy="109.1" r="1.8" fill="#a592f0" fill-opacity="0.9"/>
<circle cx="346.4" cy="125.8" r="1.8" fill="#a592f0" fill-opacity="0.9"/>
<circle cx="337.4" cy="100.1" r="1.8" fill="#a592f0" fill-opacity="0.9"/>
<circle cx="320.7" cy="134.8" r="1.8" fill="#a592f0" fill-opacity="0.9"/>
<circle cx="336.3" cy="84.4" r="1.8" fill="#a592f0" fill-opacity="0.9"/>
<circle cx="321.7" cy="51.8" r="1.8" fill="#a592f0" fill-opacity="0.9"/>
<circle cx="312.7" cy="75.4" r="1.8" fill="#a592f0" fill-opacity="0.9"/>
<circle cx="345.3" cy="60.8" r="1.8" fill="#a592f0" fill-opacity="0.9"/>
<circle cx="311.7" cy="59.8" r="1.8" fill="#a592f0" fill-opacity="0.9"/>
<circle cx="346.4" cy="76.5" r="1.8" fill="#a592f0" fill-opacity="0.9"/>
<circle cx="337.4" cy="50.8" r="1.8" fill="#a592f0" fill-opacity="0.9"/>
<circle cx="320.7" cy="85.5" r="1.8" fill="#a592f0" fill-opacity="0.9"/>
<circle cx="394.2" cy="131.1" r="1.55" fill="#cc1638"/>
<circle cx="396.2" cy="132.9" r="1.55" fill="#cc1638"/>
<circle cx="385.9" cy="139.0" r="1.55" fill="#cc1638"/>
<circle cx="387.4" cy="141.2" r="1.55" fill="#cc1638"/>
<circle cx="385.5" cy="126.8" r="1.55" fill="#cc1638"/>
<circle cx="387.0" cy="128.4" r="1.55" fill="#cc1638"/>
<circle cx="375.8" cy="132.9" r="1.55" fill="#cc1638"/>
<circle cx="376.9" cy="134.8" r="1.55" fill="#cc1638"/>
<circle cx="379.8" cy="100.9" r="1.55" fill="#cc1638"/>
<circle cx="381.0" cy="101.3" r="1.55" fill="#cc1638"/>
<circle cx="370.1" cy="107.0" r="1.55" fill="#cc1638"/>
<circle cx="370.9" cy="107.7" r="1.55" fill="#cc1638"/>
<circle cx="369.7" cy="94.8" r="1.55" fill="#cc1638"/>
<circle cx="370.5" cy="94.9" r="1.55" fill="#cc1638"/>
<circle cx="361.4" cy="102.7" r="1.55" fill="#cc1638"/>
<circle cx="361.7" cy="103.2" r="1.55" fill="#cc1638"/>
<circle cx="367.9" cy="124.6" r="1.55" fill="#cc1638"/>
<circle cx="368.6" cy="126.1" r="1.55" fill="#cc1638"/>
<circle cx="363.6" cy="133.3" r="1.55" fill="#cc1638"/>
<circle cx="364.1" cy="135.3" r="1.55" fill="#cc1638"/>
<circle cx="361.8" cy="114.9" r="1.55" fill="#cc1638"/>
<circle cx="362.2" cy="116.0" r="1.55" fill="#cc1638"/>
<circle cx="355.7" cy="125.0" r="1.55" fill="#cc1638"/>
<circle cx="355.8" cy="126.5" r="1.55" fill="#cc1638"/>
<circle cx="399.9" cy="108.8" r="1.55" fill="#cc1638"/>
<circle cx="402.1" cy="109.6" r="1.55" fill="#cc1638"/>
<circle cx="393.8" cy="118.9" r="1.55" fill="#cc1638"/>
<circle cx="395.7" cy="120.1" r="1.55" fill="#cc1638"/>
<circle cx="392.0" cy="100.5" r="1.55" fill="#cc1638"/>
<circle cx="393.8" cy="100.8" r="1.55" fill="#cc1638"/>
<circle cx="387.7" cy="109.2" r="1.55" fill="#cc1638"/>
<circle cx="389.3" cy="110.0" r="1.55" fill="#cc1638"/>
<circle cx="351.7" cy="108.8" r="1.55" fill="#cc1638"/>
<circle cx="351.6" cy="109.6" r="1.55" fill="#cc1638"/>
<circle cx="403.9" cy="125.0" r="1.55" fill="#cc1638"/>
<circle cx="406.3" cy="126.5" r="1.55" fill="#cc1638"/>
<circle cx="385.9" cy="90.8" r="1.55" fill="#cc1638"/>
<circle cx="387.4" cy="90.7" r="1.55" fill="#cc1638"/>
<circle cx="369.7" cy="143.0" r="1.55" fill="#cc1638"/>
<circle cx="370.5" cy="145.4" r="1.55" fill="#cc1638"/>
<circle cx="394.2" cy="82.9" r="1.55" fill="#cc1638"/>
<circle cx="396.2" cy="82.4" r="1.55" fill="#cc1638"/>
<circle cx="385.5" cy="78.6" r="1.55" fill="#cc1638"/>
<circle cx="387.0" cy="77.9" r="1.55" fill="#cc1638"/>
<circle cx="375.8" cy="84.7" r="1.55" fill="#cc1638"/>
<circle cx="376.9" cy="84.3" r="1.55" fill="#cc1638"/>
<circle cx="379.8" cy="52.7" r="1.55" fill="#cc1638"/>
<circle cx="381.0" cy="50.8" r="1.55" fill="#cc1638"/>
<circle cx="370.1" cy="58.8" r="1.55" fill="#cc1638"/>
<circle cx="370.9" cy="57.2" r="1.55" fill="#cc1638"/>
<circle cx="369.7" cy="46.6" r="1.55" fill="#cc1638"/>
<circle cx="370.5" cy="44.4" r="1.55" fill="#cc1638"/>
<circle cx="361.4" cy="54.5" r="1.55" fill="#cc1638"/>
<circle cx="361.7" cy="52.7" r="1.55" fill="#cc1638"/>
<circle cx="367.9" cy="76.4" r="1.55" fill="#cc1638"/>
<circle cx="368.6" cy="75.6" r="1.55" fill="#cc1638"/>
<circle cx="363.6" cy="85.1" r="1.55" fill="#cc1638"/>
<circle cx="364.1" cy="84.8" r="1.55" fill="#cc1638"/>
<circle cx="361.8" cy="66.7" r="1.55" fill="#cc1638"/>
<circle cx="362.2" cy="65.5" r="1.55" fill="#cc1638"/>
<circle cx="355.7" cy="76.8" r="1.55" fill="#cc1638"/>
<circle cx="355.8" cy="76.0" r="1.55" fill="#cc1638"/>
<circle cx="399.9" cy="60.6" r="1.55" fill="#cc1638"/>
<circle cx="402.1" cy="59.1" r="1.55" fill="#cc1638"/>
<circle cx="393.8" cy="70.7" r="1.55" fill="#cc1638"/>
<circle cx="395.7" cy="69.6" r="1.55" fill="#cc1638"/>
<circle cx="392.0" cy="52.3" r="1.55" fill="#cc1638"/>
<circle cx="393.8" cy="50.3" r="1.55" fill="#cc1638"/>
<circle cx="387.7" cy="61.0" r="1.55" fill="#cc1638"/>
<circle cx="389.3" cy="59.5" r="1.55" fill="#cc1638"/>
<circle cx="351.7" cy="60.6" r="1.55" fill="#cc1638"/>
<circle cx="351.6" cy="59.1" r="1.55" fill="#cc1638"/>
<circle cx="403.9" cy="76.8" r="1.55" fill="#cc1638"/>
<circle cx="406.3" cy="76.0" r="1.55" fill="#cc1638"/>
<circle cx="385.9" cy="42.6" r="1.55" fill="#cc1638"/>
<circle cx="387.4" cy="40.2" r="1.55" fill="#cc1638"/>
<circle cx="346.0" cy="131.1" r="1.55" fill="#cc1638"/>
<circle cx="345.7" cy="132.9" r="1.55" fill="#cc1638"/>
<circle cx="337.7" cy="139.0" r="1.55" fill="#cc1638"/>
<circle cx="336.9" cy="141.2" r="1.55" fill="#cc1638"/>
<circle cx="337.3" cy="126.8" r="1.55" fill="#cc1638"/>
<circle cx="336.5" cy="128.4" r="1.55" fill="#cc1638"/>
<circle cx="327.6" cy="132.9" r="1.55" fill="#cc1638"/>
<circle cx="326.4" cy="134.8" r="1.55" fill="#cc1638"/>
<circle cx="331.6" cy="100.9" r="1.55" fill="#cc1638"/>
<circle cx="330.5" cy="101.3" r="1.55" fill="#cc1638"/>
<circle cx="321.9" cy="107.0" r="1.55" fill="#cc1638"/>
<circle cx="320.4" cy="107.7" r="1.55" fill="#cc1638"/>
<circle cx="321.5" cy="94.8" r="1.55" fill="#cc1638"/>
<circle cx="320.0" cy="94.9" r="1.55" fill="#cc1638"/>
<circle cx="313.2" cy="102.7" r="1.55" fill="#cc1638"/>
<circle cx="311.2" cy="103.2" r="1.55" fill="#cc1638"/>
<circle cx="319.7" cy="124.6" r="1.55" fill="#cc1638"/>
<circle cx="318.1" cy="126.1" r="1.55" fill="#cc1638"/>
<circle cx="315.4" cy="133.3" r="1.55" fill="#cc1638"/>
<circle cx="313.6" cy="135.3" r="1.55" fill="#cc1638"/>
<circle cx="313.6" cy="114.9" r="1.55" fill="#cc1638"/>
<circle cx="311.7" cy="116.0" r="1.55" fill="#cc1638"/>
<circle cx="307.5" cy="125.0" r="1.55" fill="#cc1638"/>
<circle cx="305.3" cy="126.5" r="1.55" fill="#cc1638"/>
<circle cx="345.6" cy="118.9" r="1.55" fill="#cc1638"/>
<circle cx="345.2" cy="120.1" r="1.55" fill="#cc1638"/>
<circle cx="343.8" cy="100.5" r="1.55" fill="#cc1638"/>
<circle cx="343.3" cy="100.8" r="1.55" fill="#cc1638"/>
<circle cx="339.5" cy="109.2" r="1.55" fill="#cc1638"/>
<circle cx="338.8" cy="110.0" r="1.55" fill="#cc1638"/>
<circle cx="303.5" cy="108.8" r="1.55" fill="#cc1638"/>
<circle cx="301.1" cy="109.6" r="1.55" fill="#cc1638"/>
<circle cx="337.7" cy="90.8" r="1.55" fill="#cc1638"/>
<circle cx="336.9" cy="90.7" r="1.55" fill="#cc1638"/>
<circle cx="321.5" cy="143.0" r="1.55" fill="#cc1638"/>
<circle cx="320.0" cy="145.4" r="1.55" fill="#cc1638"/>
<circle cx="346.0" cy="82.9" r="1.55" fill="#cc1638"/>
<circle cx="345.7" cy="82.4" r="1.55" fill="#cc1638"/>
<circle cx="337.3" cy="78.6" r="1.55" fill="#cc1638"/>
<circle cx="336.5" cy="77.9" r="1.55" fill="#cc1638"/>
<circle cx="327.6" cy="84.7" r="1.55" fill="#cc1638"/>
<circle cx="326.4" cy="84.3" r="1.55" fill="#cc1638"/>
<circle cx="331.6" cy="52.7" r="1.55" fill="#cc1638"/>
<circle cx="330.5" cy="50.8" r="1.55" fill="#cc1638"/>
<circle cx="321.9" cy="58.8" r="1.55" fill="#cc1638"/>
<circle cx="320.4" cy="57.2" r="1.55" fill="#cc1638"/>
<circle cx="321.5" cy="46.6" r="1.55" fill="#cc1638"/>
<circle cx="320.0" cy="44.4" r="1.55" fill="#cc1638"/>
<circle cx="313.2" cy="54.5" r="1.55" fill="#cc1638"/>
<circle cx="311.2" cy="52.7" r="1.55" fill="#cc1638"/>
<circle cx="319.7" cy="76.4" r="1.55" fill="#cc1638"/>
<circle cx="318.1" cy="75.6" r="1.55" fill="#cc1638"/>
<circle cx="315.4" cy="85.1" r="1.55" fill="#cc1638"/>
<circle cx="313.6" cy="84.8" r="1.55" fill="#cc1638"/>
<circle cx="313.6" cy="66.7" r="1.55" fill="#cc1638"/>
<circle cx="311.7" cy="65.5" r="1.55" fill="#cc1638"/>
<circle cx="307.5" cy="76.8" r="1.55" fill="#cc1638"/>
<circle cx="305.3" cy="76.0" r="1.55" fill="#cc1638"/>
<circle cx="345.6" cy="70.7" r="1.55" fill="#cc1638"/>
<circle cx="345.2" cy="69.6" r="1.55" fill="#cc1638"/>
<circle cx="343.8" cy="52.3" r="1.55" fill="#cc1638"/>
<circle cx="343.3" cy="50.3" r="1.55" fill="#cc1638"/>
<circle cx="339.5" cy="61.0" r="1.55" fill="#cc1638"/>
<circle cx="338.8" cy="59.5" r="1.55" fill="#cc1638"/>
<circle cx="303.5" cy="60.6" r="1.55" fill="#cc1638"/>
<circle cx="301.1" cy="59.1" r="1.55" fill="#cc1638"/>
<circle cx="337.7" cy="42.6" r="1.55" fill="#cc1638"/>
<circle cx="336.9" cy="40.2" r="1.55" fill="#cc1638"/>
<rect x="305.5" y="92.8" width="48.2" height="48.2" fill="none" stroke="#b4bbc6" stroke-width="0.8"/>
<rect x="303.2" y="92.8" width="50.5" height="50.5" fill="none" stroke="#b4bbc6" stroke-width="0.8"/>
<polygon points="356.8,151 367.4,161.5 362,161.5 362,178.6 351.4,178.6 351.4,161.5 346.3,161.5" fill="url(#garrow)"/>
<polygon points="324.3,191.5 393.4,188.3 398.7,203.6 384.5,205.6 378.5,201.6 371.5,206.1 365.1,202.1 357.6,206.6 351.6,202.6 344.6,207.1 338.3,203.1 330.0,207.6 324.0,197.0" fill="#6862e6" fill-opacity="0.74"/>
<polygon points="325.5,194.0 330.0,206.8 336.3,201.4" fill="#4f46d0" fill-opacity="0.45"/>
<polygon points="338.9,193.5 343.6,206.3 350.0,201.4" fill="#4f46d0" fill-opacity="0.45"/>
<polygon points="352.2,193.0 356.6,205.8 363.3,201.4" fill="#4f46d0" fill-opacity="0.45"/>
<polygon points="365.8,192.5 370.5,205.3 376.6,201.4" fill="#4f46d0" fill-opacity="0.45"/>
<polygon points="379.1,192.0 383.5,204.8 390.0,201.4" fill="#4f46d0" fill-opacity="0.45"/>
<circle cx="334.3" cy="201.2" r="1.7" fill="#c3b0f5" stroke="#7a4fd8" stroke-width="1"/>
<circle cx="348.0" cy="200.7" r="1.7" fill="#c3b0f5" stroke="#7a4fd8" stroke-width="1"/>
<circle cx="361.3" cy="200.2" r="1.7" fill="#c3b0f5" stroke="#7a4fd8" stroke-width="1"/>
<circle cx="374.6" cy="199.7" r="1.7" fill="#c3b0f5" stroke="#7a4fd8" stroke-width="1"/>
<circle cx="388.0" cy="199.2" r="1.7" fill="#c3b0f5" stroke="#7a4fd8" stroke-width="1"/>
<circle cx="326.0" cy="191.7" r="1.75" fill="#cc1638"/>
<circle cx="325.1" cy="195.6" r="1.75" fill="#cc1638"/>
<circle cx="339.4" cy="191.2" r="1.75" fill="#cc1638"/>
<circle cx="338.5" cy="195.1" r="1.75" fill="#cc1638"/>
<circle cx="352.7" cy="190.7" r="1.75" fill="#cc1638"/>
<circle cx="351.8" cy="194.6" r="1.75" fill="#cc1638"/>
<circle cx="366.3" cy="190.2" r="1.75" fill="#cc1638"/>
<circle cx="365.4" cy="194.1" r="1.75" fill="#cc1638"/>
<circle cx="379.6" cy="189.7" r="1.75" fill="#cc1638"/>
<circle cx="378.7" cy="193.6" r="1.75" fill="#cc1638"/>
<circle cx="392.9" cy="189.2" r="1.75" fill="#cc1638"/>
<circle cx="392.0" cy="193.1" r="1.75" fill="#cc1638"/>
<circle cx="330.0" cy="206.8" r="1.7" fill="#cc1638"/>
<circle cx="343.6" cy="206.3" r="1.7" fill="#cc1638"/>
<circle cx="356.6" cy="205.8" r="1.7" fill="#cc1638"/>
<circle cx="370.5" cy="205.3" r="1.7" fill="#cc1638"/>
<circle cx="383.5" cy="204.8" r="1.7" fill="#cc1638"/>
<ellipse cx="397.5" cy="202.6" rx="1.6" ry="3.2" transform="rotate(12 397.5 202.6)" fill="#d3163a"/>
<polygon points="318.3,229.2 387.4,226.0 392.7,241.3 378.5,243.3 372.5,239.3 365.5,243.8 359.1,239.8 351.6,244.3 345.6,240.3 338.6,244.8 332.3,240.8 324.0,245.3 318.0,234.7" fill="#6862e6" fill-opacity="0.74"/>
<polygon points="319.5,231.7 324.0,244.5 330.3,239.1" fill="#4f46d0" fill-opacity="0.45"/>
<polygon points="332.9,231.2 337.6,244.0 344.0,239.1" fill="#4f46d0" fill-opacity="0.45"/>
<polygon points="346.2,230.7 350.6,243.5 357.3,239.1" fill="#4f46d0" fill-opacity="0.45"/>
<polygon points="359.8,230.2 364.5,243.0 370.6,239.1" fill="#4f46d0" fill-opacity="0.45"/>
<polygon points="373.1,229.7 377.5,242.5 384.0,239.1" fill="#4f46d0" fill-opacity="0.45"/>
<circle cx="328.3" cy="238.9" r="1.7" fill="#c3b0f5" stroke="#7a4fd8" stroke-width="1"/>
<circle cx="342.0" cy="238.4" r="1.7" fill="#c3b0f5" stroke="#7a4fd8" stroke-width="1"/>
<circle cx="355.3" cy="237.9" r="1.7" fill="#c3b0f5" stroke="#7a4fd8" stroke-width="1"/>
<circle cx="368.6" cy="237.4" r="1.7" fill="#c3b0f5" stroke="#7a4fd8" stroke-width="1"/>
<circle cx="382.0" cy="236.9" r="1.7" fill="#c3b0f5" stroke="#7a4fd8" stroke-width="1"/>
<circle cx="320.0" cy="229.4" r="1.75" fill="#cc1638"/>
<circle cx="319.1" cy="233.3" r="1.75" fill="#cc1638"/>
<circle cx="333.4" cy="228.9" r="1.75" fill="#cc1638"/>
<circle cx="332.5" cy="232.8" r="1.75" fill="#cc1638"/>
<circle cx="346.7" cy="228.4" r="1.75" fill="#cc1638"/>
<circle cx="345.8" cy="232.3" r="1.75" fill="#cc1638"/>
<circle cx="360.3" cy="227.9" r="1.75" fill="#cc1638"/>
<circle cx="359.4" cy="231.8" r="1.75" fill="#cc1638"/>
<circle cx="373.6" cy="227.4" r="1.75" fill="#cc1638"/>
<circle cx="372.7" cy="231.3" r="1.75" fill="#cc1638"/>
<circle cx="386.9" cy="226.9" r="1.75" fill="#cc1638"/>
<circle cx="386.0" cy="230.8" r="1.75" fill="#cc1638"/>
<circle cx="324.0" cy="244.5" r="1.7" fill="#cc1638"/>
<circle cx="337.6" cy="244.0" r="1.7" fill="#cc1638"/>
<circle cx="350.6" cy="243.5" r="1.7" fill="#cc1638"/>
<circle cx="364.5" cy="243.0" r="1.7" fill="#cc1638"/>
<circle cx="377.5" cy="242.5" r="1.7" fill="#cc1638"/>
<ellipse cx="391.5" cy="240.3" rx="1.6" ry="3.2" transform="rotate(12 391.5 240.3)" fill="#d3163a"/>
<polygon points="312.7,267.9 381.8,264.7 387.1,280.0 372.9,282.0 366.9,278.0 359.9,282.5 353.4,278.5 346.0,283.0 340.0,279.0 333.0,283.5 326.7,279.5 318.4,284.0 312.4,273.4" fill="#6862e6" fill-opacity="0.74"/>
<polygon points="313.9,270.4 318.4,283.2 324.7,277.8" fill="#4f46d0" fill-opacity="0.45"/>
<polygon points="327.3,269.9 332.0,282.7 338.4,277.8" fill="#4f46d0" fill-opacity="0.45"/>
<polygon points="340.6,269.4 345.0,282.2 351.7,277.8" fill="#4f46d0" fill-opacity="0.45"/>
<polygon points="354.2,268.9 358.9,281.7 365.0,277.8" fill="#4f46d0" fill-opacity="0.45"/>
<polygon points="367.5,268.4 371.9,281.2 378.4,277.8" fill="#4f46d0" fill-opacity="0.45"/>
<circle cx="322.7" cy="277.6" r="1.7" fill="#c3b0f5" stroke="#7a4fd8" stroke-width="1"/>
<circle cx="336.4" cy="277.1" r="1.7" fill="#c3b0f5" stroke="#7a4fd8" stroke-width="1"/>
<circle cx="349.7" cy="276.6" r="1.7" fill="#c3b0f5" stroke="#7a4fd8" stroke-width="1"/>
<circle cx="363.0" cy="276.1" r="1.7" fill="#c3b0f5" stroke="#7a4fd8" stroke-width="1"/>
<circle cx="376.4" cy="275.6" r="1.7" fill="#c3b0f5" stroke="#7a4fd8" stroke-width="1"/>
<circle cx="314.4" cy="268.1" r="1.75" fill="#cc1638"/>
<circle cx="313.5" cy="272.0" r="1.75" fill="#cc1638"/>
<circle cx="327.8" cy="267.6" r="1.75" fill="#cc1638"/>
<circle cx="326.9" cy="271.5" r="1.75" fill="#cc1638"/>
<circle cx="341.1" cy="267.1" r="1.75" fill="#cc1638"/>
<circle cx="340.2" cy="271.0" r="1.75" fill="#cc1638"/>
<circle cx="354.7" cy="266.6" r="1.75" fill="#cc1638"/>
<circle cx="353.8" cy="270.5" r="1.75" fill="#cc1638"/>
<circle cx="368.0" cy="266.1" r="1.75" fill="#cc1638"/>
<circle cx="367.1" cy="270.0" r="1.75" fill="#cc1638"/>
<circle cx="381.3" cy="265.6" r="1.75" fill="#cc1638"/>
<circle cx="380.4" cy="269.5" r="1.75" fill="#cc1638"/>
<circle cx="318.4" cy="283.2" r="1.7" fill="#cc1638"/>
<circle cx="332.0" cy="282.7" r="1.7" fill="#cc1638"/>
<circle cx="345.0" cy="282.2" r="1.7" fill="#cc1638"/>
<circle cx="358.9" cy="281.7" r="1.7" fill="#cc1638"/>
<circle cx="371.9" cy="281.2" r="1.7" fill="#cc1638"/>
<ellipse cx="385.9" cy="279.0" rx="1.6" ry="3.2" transform="rotate(12 385.9 279.0)" fill="#d3163a"/>
<path d="M266.6,27.4 C267.5,26.3 269.6,22.9 271.8,21.1 C274.0,19.3 276.9,17.6 279.9,16.7 C282.9,15.8 286.4,15.8 289.6,15.9 C292.9,16.0 296.1,16.4 299.4,17.1 C302.7,17.8 306.2,18.8 309.2,20.3 C312.2,21.8 315.2,24.1 317.3,26.0 C319.4,27.9 321.2,30.6 322.0,31.5 L320.0,33.2 C319.2,32.3 317.5,29.7 315.5,28.0 C313.5,26.3 310.8,24.3 308.0,23.0 C305.2,21.7 302.1,20.9 299.0,20.3 C295.9,19.7 292.5,19.4 289.6,19.6 C286.7,19.8 283.9,20.6 281.4,21.6 C278.9,22.6 276.6,23.9 274.6,25.6 C272.6,27.3 270.4,30.6 269.6,31.6 Z" fill="url(#barrow)"/>
<polygon points="317.2,30.4 327.4,33.8 323.0,37.8" fill="url(#barrow)"/>
<path d="M268.6,305.2 C269.4,306.0 271.5,308.6 273.4,309.8 C275.3,311.0 277.5,311.9 279.9,312.4 C282.3,312.9 285.0,313.3 288.0,313.0 C291.0,312.7 294.3,312.0 297.8,310.7 C301.3,309.4 305.9,307.0 309.2,305.0 C312.4,303.0 315.0,300.7 317.3,298.5 C319.6,296.3 322.2,292.8 323.2,291.6 L324.8,292.6 C323.8,293.9 321.4,297.9 318.9,300.3 C316.4,302.8 313.2,305.2 310.0,307.3 C306.8,309.4 302.8,311.3 299.4,312.6 C296.0,313.9 292.5,314.5 289.6,315.0 C286.7,315.5 284.3,315.8 281.9,315.6 C279.5,315.4 276.9,314.7 275.0,314.0 C273.1,313.3 271.2,311.8 270.4,311.4 Z" fill="#3f6a8a"/>
<polygon points="320.4,291.6 329.2,289.6 325.9,286.6" fill="#3f6a8a"/>
<line x1="278.8" y1="121" x2="279.8" y2="110" stroke="#52e2b4" stroke-width="2.2"/>
<polygon points="277.2,111.4 282.6,111.6 280.1,105.4" fill="#52e2b4"/>
<line x1="279" y1="122" x2="291" y2="121.8" stroke="#dc1830" stroke-width="1.5"/>
<polygon points="290.2,119.8 290.2,123.8 295.8,121.7" fill="#dc1830"/>
<circle cx="278.2" cy="122" r="2" fill="#1b2380"/>
<rect x="299.2" y="121" width="1.4" height="1.6" fill="#222"/>
<path d="M279.6,100.8 l2.2,1.2 l-2.2,1.2 z" fill="#222"/>
<line x1="297.2" y1="267" x2="299.2" y2="255" stroke="#2330c8" stroke-width="1.6"/>
<polygon points="297.0,255.6 301.6,256.2 300.0,250.6" fill="#2330c8"/>
<line x1="296" y1="267.4" x2="285" y2="266.9" stroke="#dc1830" stroke-width="1.5"/>
<polygon points="285.8,264.9 285.6,268.9 280.4,266.7" fill="#dc1830"/>
<circle cx="297" cy="267.6" r="2.1" fill="#45c8a4"/>
<rect x="275.9" y="266.3" width="1.4" height="1.6" fill="#222"/>
<rect x="300.6" y="246.6" width="1.2" height="1.4" fill="#334"/>
<rect x="469.9" y="138.7" width="31" height="132.5" fill="url(#hatch)" stroke="#34403f" stroke-width="0.9"/>
<rect x="531.9" y="59.6" width="31" height="211.6" fill="url(#hatch)" stroke="#34403f" stroke-width="0.9"/>
<rect x="593.9" y="54.4" width="31" height="216.8" fill="url(#hatch)" stroke="#34403f" stroke-width="0.9"/>
<rect x="655.9" y="51.0" width="31" height="220.2" fill="url(#hatch)" stroke="#34403f" stroke-width="0.9"/>
<path d="M454.4,36.2 H702.3 V271.2" fill="none" stroke="#7c8281" stroke-width="1.4"/>
<path d="M454.4,36.2 V271.2 H702.3" fill="none" stroke="#4a5152" stroke-width="1.3"/>
<line x1="451.4" y1="271.2" x2="454.4" y2="271.2" stroke="#4a5152" stroke-width="1"/>
<line x1="452.59999999999997" y1="249.5" x2="454.4" y2="249.5" stroke="#4a5152" stroke-width="1"/>
<line x1="451.4" y1="227.8" x2="454.4" y2="227.8" stroke="#4a5152" stroke-width="1"/>
<line x1="452.59999999999997" y1="206.0" x2="454.4" y2="206.0" stroke="#4a5152" stroke-width="1"/>
<line x1="451.4" y1="184.3" x2="454.4" y2="184.3" stroke="#4a5152" stroke-width="1"/>
<line x1="452.59999999999997" y1="162.6" x2="454.4" y2="162.6" stroke="#4a5152" stroke-width="1"/>
<line x1="451.4" y1="140.9" x2="454.4" y2="140.9" stroke="#4a5152" stroke-width="1"/>
<line x1="452.59999999999997" y1="119.2" x2="454.4" y2="119.2" stroke="#4a5152" stroke-width="1"/>
<line x1="451.4" y1="97.4" x2="454.4" y2="97.4" stroke="#4a5152" stroke-width="1"/>
<line x1="452.59999999999997" y1="75.7" x2="454.4" y2="75.7" stroke="#4a5152" stroke-width="1"/>
<line x1="451.4" y1="54.0" x2="454.4" y2="54.0" stroke="#4a5152" stroke-width="1"/>
<line x1="454.4" y1="271.2" x2="454.4" y2="274.2" stroke="#4a5152" stroke-width="1"/>
<line x1="485.4" y1="271.2" x2="485.4" y2="274.2" stroke="#4a5152" stroke-width="1"/>
<line x1="516.4" y1="271.2" x2="516.4" y2="274.2" stroke="#4a5152" stroke-width="1"/>
<line x1="547.4" y1="271.2" x2="547.4" y2="274.2" stroke="#4a5152" stroke-width="1"/>
<line x1="578.4" y1="271.2" x2="578.4" y2="274.2" stroke="#4a5152" stroke-width="1"/>
<line x1="609.4" y1="271.2" x2="609.4" y2="274.2" stroke="#4a5152" stroke-width="1"/>
<line x1="640.4" y1="271.2" x2="640.4" y2="274.2" stroke="#4a5152" stroke-width="1"/>
<line x1="671.4" y1="271.2" x2="671.4" y2="274.2" stroke="#4a5152" stroke-width="1"/>
<line x1="702.4" y1="271.2" x2="702.4" y2="274.2" stroke="#4a5152" stroke-width="1"/>
<text x="451.6" y="275.5" font-family="Liberation Sans, Arial, sans-serif" font-size="11.8" text-anchor="end" fill="#1c1c1c" stroke="#1c1c1c" stroke-width="0.3">0</text>
<text x="451.6" y="232.1" font-family="Liberation Sans, Arial, sans-serif" font-size="11.8" text-anchor="end" fill="#1c1c1c" stroke="#1c1c1c" stroke-width="0.3">20</text>
<text x="451.6" y="188.6" font-family="Liberation Sans, Arial, sans-serif" font-size="11.8" text-anchor="end" fill="#1c1c1c" stroke="#1c1c1c" stroke-width="0.3">40</text>
<text x="451.6" y="145.2" font-family="Liberation Sans, Arial, sans-serif" font-size="11.8" text-anchor="end" fill="#1c1c1c" stroke="#1c1c1c" stroke-width="0.3">60</text>
<text x="451.6" y="101.7" font-family="Liberation Sans, Arial, sans-serif" font-size="11.8" text-anchor="end" fill="#1c1c1c" stroke="#1c1c1c" stroke-width="0.3">80</text>
<text x="451.6" y="58.3" font-family="Liberation Sans, Arial, sans-serif" font-size="11.8" text-anchor="end" fill="#1c1c1c" stroke="#1c1c1c" stroke-width="0.3">100</text>
<text x="455.1" y="288.5" font-family="Liberation Sans, Arial, sans-serif" font-size="11.8" text-anchor="middle" fill="#1c1c1c" stroke="#1c1c1c" stroke-width="0.3">0</text>
<text x="486.1" y="288.5" font-family="Liberation Sans, Arial, sans-serif" font-size="11.8" text-anchor="middle" fill="#1c1c1c" stroke="#1c1c1c" stroke-width="0.3">1</text>
<text x="517.1" y="288.5" font-family="Liberation Sans, Arial, sans-serif" font-size="11.8" text-anchor="middle" fill="#1c1c1c" stroke="#1c1c1c" stroke-width="0.3">2</text>
<text x="548.1" y="288.5" font-family="Liberation Sans, Arial, sans-serif" font-size="11.8" text-anchor="middle" fill="#1c1c1c" stroke="#1c1c1c" stroke-width="0.3">3</text>
<text x="579.1" y="288.5" font-family="Liberation Sans, Arial, sans-serif" font-size="11.8" text-anchor="middle" fill="#1c1c1c" stroke="#1c1c1c" stroke-width="0.3">4</text>
<text x="610.1" y="288.5" font-family="Liberation Sans, Arial, sans-serif" font-size="11.8" text-anchor="middle" fill="#1c1c1c" stroke="#1c1c1c" stroke-width="0.3">5</text>
<text x="641.1" y="288.5" font-family="Liberation Sans, Arial, sans-serif" font-size="11.8" text-anchor="middle" fill="#1c1c1c" stroke="#1c1c1c" stroke-width="0.3">6</text>
<text x="672.1" y="288.5" font-family="Liberation Sans, Arial, sans-serif" font-size="11.8" text-anchor="middle" fill="#1c1c1c" stroke="#1c1c1c" stroke-width="0.3">7</text>
<text x="703.1" y="288.5" font-family="Liberation Sans, Arial, sans-serif" font-size="11.8" text-anchor="middle" fill="#1c1c1c" stroke="#1c1c1c" stroke-width="0.3">8</text>
<text x="587" y="307.7" font-family="Liberation Sans, Arial, sans-serif" font-size="13" font-weight="bold" text-anchor="middle" fill="#111">Time (h)</text>
<text transform="translate(427.4,161.2) rotate(-90)" font-family="Liberation Sans, Arial, sans-serif" font-size="13" font-weight="bold" text-anchor="middle" fill="#111">Yield (%)</text>
</svg>
</body></html>
